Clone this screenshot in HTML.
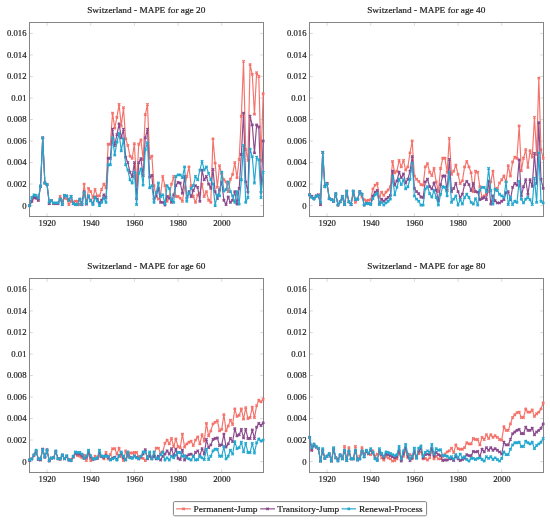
<!DOCTYPE html>
<html lang="en"><head><meta charset="utf-8"><title>Switzerland - MAPE</title>
<style>
html,body{margin:0;padding:0;background:#fff;}
svg{display:block;}
text{font-family:"Liberation Serif",serif;font-size:8.7px;fill:#1a1a1a;stroke:#1a1a1a;stroke-width:0.18px;}
</style></head><body>
<svg width="550" height="521" viewBox="0 0 550 521">
<rect width="550" height="521" fill="#ffffff"/>
<path d="M47.06 216.50v-3.3M47.06 22.50v3.3M90.72 216.50v-3.3M90.72 22.50v3.3M134.38 216.50v-3.3M134.38 22.50v3.3M178.04 216.50v-3.3M178.04 22.50v3.3M221.70 216.50v-3.3M221.70 22.50v3.3M29.50 205.60h3.3M263.50 205.60h-3.3M29.50 184.08h3.3M263.50 184.08h-3.3M29.50 162.56h3.3M263.50 162.56h-3.3M29.50 141.04h3.3M263.50 141.04h-3.3M29.50 119.52h3.3M263.50 119.52h-3.3M29.50 98.00h3.3M263.50 98.00h-3.3M29.50 76.48h3.3M263.50 76.48h-3.3M29.50 54.96h3.3M263.50 54.96h-3.3M29.50 33.44h3.3M263.50 33.44h-3.3" stroke="#c8c8c8" stroke-width="0.7" fill="none"/>
<rect x="29.50" y="22.50" width="234.00" height="194.00" fill="none" stroke="#858585" stroke-width="1"/>
<polyline points="29.60,205.60 31.78,201.30 33.97,197.53 36.15,198.07 38.33,200.22 40.52,186.23 42.70,137.81 44.88,183.00 47.06,184.62 49.25,203.45 51.43,200.76 53.61,203.45 55.80,203.45 57.98,203.45 60.16,196.45 62.34,200.76 64.53,198.07 66.71,198.61 68.89,204.52 71.08,201.30 73.26,201.83 75.44,201.30 77.63,201.30 79.81,204.52 81.99,202.37 84.17,184.08 86.36,203.99 88.54,188.38 90.72,191.61 92.91,197.53 95.09,189.46 97.27,195.92 99.46,195.92 101.64,189.46 103.82,184.08 106.00,187.85 108.19,144.27 110.37,144.27 112.55,113.06 114.74,128.13 116.92,117.37 119.10,104.46 121.29,125.98 123.47,107.68 125.65,138.89 127.83,145.34 130.02,156.10 132.20,158.26 134.38,143.73 136.57,185.16 138.75,144.27 140.93,139.96 143.12,159.33 145.30,114.68 147.48,104.46 149.66,158.26 151.85,156.10 154.03,185.69 156.21,196.45 158.40,199.14 160.58,194.84 162.76,176.55 164.95,185.69 167.13,201.30 169.31,196.45 171.49,184.08 173.68,176.55 175.86,196.45 178.04,196.45 180.23,198.07 182.41,201.30 184.59,187.31 186.78,176.55 188.96,166.86 191.14,185.69 193.32,196.45 195.51,202.37 197.69,194.84 199.87,193.23 202.06,184.08 204.24,196.45 206.42,191.61 208.61,200.22 210.79,202.37 212.97,138.89 215.15,163.10 217.34,187.31 219.52,165.79 221.70,173.86 223.89,179.78 226.07,181.93 228.25,191.61 230.44,179.24 232.62,174.40 234.80,162.56 236.98,177.62 239.17,159.33 241.35,116.29 243.53,61.42 245.72,149.65 247.90,160.41 250.08,64.64 252.27,74.33 254.45,114.14 256.63,72.71 258.81,76.48 261.00,160.41 263.18,93.70" fill="none" stroke="#f4726a" stroke-width="1.15" stroke-linejoin="round"/>
<path d="M28.40 204.40l2.4 2.4m0 -2.4l-2.4 2.4M30.58 200.10l2.4 2.4m0 -2.4l-2.4 2.4M32.77 196.33l2.4 2.4m0 -2.4l-2.4 2.4M34.95 196.87l2.4 2.4m0 -2.4l-2.4 2.4M37.13 199.02l2.4 2.4m0 -2.4l-2.4 2.4M39.31 185.03l2.4 2.4m0 -2.4l-2.4 2.4M41.50 136.61l2.4 2.4m0 -2.4l-2.4 2.4M43.68 181.80l2.4 2.4m0 -2.4l-2.4 2.4M45.86 183.42l2.4 2.4m0 -2.4l-2.4 2.4M48.05 202.25l2.4 2.4m0 -2.4l-2.4 2.4M50.23 199.56l2.4 2.4m0 -2.4l-2.4 2.4M52.41 202.25l2.4 2.4m0 -2.4l-2.4 2.4M54.60 202.25l2.4 2.4m0 -2.4l-2.4 2.4M56.78 202.25l2.4 2.4m0 -2.4l-2.4 2.4M58.96 195.25l2.4 2.4m0 -2.4l-2.4 2.4M61.14 199.56l2.4 2.4m0 -2.4l-2.4 2.4M63.33 196.87l2.4 2.4m0 -2.4l-2.4 2.4M65.51 197.41l2.4 2.4m0 -2.4l-2.4 2.4M67.69 203.32l2.4 2.4m0 -2.4l-2.4 2.4M69.88 200.10l2.4 2.4m0 -2.4l-2.4 2.4M72.06 200.63l2.4 2.4m0 -2.4l-2.4 2.4M74.24 200.10l2.4 2.4m0 -2.4l-2.4 2.4M76.43 200.10l2.4 2.4m0 -2.4l-2.4 2.4M78.61 203.32l2.4 2.4m0 -2.4l-2.4 2.4M80.79 201.17l2.4 2.4m0 -2.4l-2.4 2.4M82.97 182.88l2.4 2.4m0 -2.4l-2.4 2.4M85.16 202.79l2.4 2.4m0 -2.4l-2.4 2.4M87.34 187.18l2.4 2.4m0 -2.4l-2.4 2.4M89.52 190.41l2.4 2.4m0 -2.4l-2.4 2.4M91.71 196.33l2.4 2.4m0 -2.4l-2.4 2.4M93.89 188.26l2.4 2.4m0 -2.4l-2.4 2.4M96.07 194.72l2.4 2.4m0 -2.4l-2.4 2.4M98.26 194.72l2.4 2.4m0 -2.4l-2.4 2.4M100.44 188.26l2.4 2.4m0 -2.4l-2.4 2.4M102.62 182.88l2.4 2.4m0 -2.4l-2.4 2.4M104.80 186.65l2.4 2.4m0 -2.4l-2.4 2.4M106.99 143.07l2.4 2.4m0 -2.4l-2.4 2.4M109.17 143.07l2.4 2.4m0 -2.4l-2.4 2.4M111.35 111.86l2.4 2.4m0 -2.4l-2.4 2.4M113.54 126.93l2.4 2.4m0 -2.4l-2.4 2.4M115.72 116.17l2.4 2.4m0 -2.4l-2.4 2.4M117.90 103.26l2.4 2.4m0 -2.4l-2.4 2.4M120.09 124.78l2.4 2.4m0 -2.4l-2.4 2.4M122.27 106.48l2.4 2.4m0 -2.4l-2.4 2.4M124.45 137.69l2.4 2.4m0 -2.4l-2.4 2.4M126.63 144.14l2.4 2.4m0 -2.4l-2.4 2.4M128.82 154.90l2.4 2.4m0 -2.4l-2.4 2.4M131.00 157.06l2.4 2.4m0 -2.4l-2.4 2.4M133.18 142.53l2.4 2.4m0 -2.4l-2.4 2.4M135.37 183.96l2.4 2.4m0 -2.4l-2.4 2.4M137.55 143.07l2.4 2.4m0 -2.4l-2.4 2.4M139.73 138.76l2.4 2.4m0 -2.4l-2.4 2.4M141.92 158.13l2.4 2.4m0 -2.4l-2.4 2.4M144.10 113.48l2.4 2.4m0 -2.4l-2.4 2.4M146.28 103.26l2.4 2.4m0 -2.4l-2.4 2.4M148.47 157.06l2.4 2.4m0 -2.4l-2.4 2.4M150.65 154.90l2.4 2.4m0 -2.4l-2.4 2.4M152.83 184.49l2.4 2.4m0 -2.4l-2.4 2.4M155.01 195.25l2.4 2.4m0 -2.4l-2.4 2.4M157.20 197.94l2.4 2.4m0 -2.4l-2.4 2.4M159.38 193.64l2.4 2.4m0 -2.4l-2.4 2.4M161.56 175.35l2.4 2.4m0 -2.4l-2.4 2.4M163.75 184.49l2.4 2.4m0 -2.4l-2.4 2.4M165.93 200.10l2.4 2.4m0 -2.4l-2.4 2.4M168.11 195.25l2.4 2.4m0 -2.4l-2.4 2.4M170.29 182.88l2.4 2.4m0 -2.4l-2.4 2.4M172.48 175.35l2.4 2.4m0 -2.4l-2.4 2.4M174.66 195.25l2.4 2.4m0 -2.4l-2.4 2.4M176.84 195.25l2.4 2.4m0 -2.4l-2.4 2.4M179.03 196.87l2.4 2.4m0 -2.4l-2.4 2.4M181.21 200.10l2.4 2.4m0 -2.4l-2.4 2.4M183.39 186.11l2.4 2.4m0 -2.4l-2.4 2.4M185.58 175.35l2.4 2.4m0 -2.4l-2.4 2.4M187.76 165.66l2.4 2.4m0 -2.4l-2.4 2.4M189.94 184.49l2.4 2.4m0 -2.4l-2.4 2.4M192.12 195.25l2.4 2.4m0 -2.4l-2.4 2.4M194.31 201.17l2.4 2.4m0 -2.4l-2.4 2.4M196.49 193.64l2.4 2.4m0 -2.4l-2.4 2.4M198.67 192.03l2.4 2.4m0 -2.4l-2.4 2.4M200.86 182.88l2.4 2.4m0 -2.4l-2.4 2.4M203.04 195.25l2.4 2.4m0 -2.4l-2.4 2.4M205.22 190.41l2.4 2.4m0 -2.4l-2.4 2.4M207.41 199.02l2.4 2.4m0 -2.4l-2.4 2.4M209.59 201.17l2.4 2.4m0 -2.4l-2.4 2.4M211.77 137.69l2.4 2.4m0 -2.4l-2.4 2.4M213.95 161.90l2.4 2.4m0 -2.4l-2.4 2.4M216.14 186.11l2.4 2.4m0 -2.4l-2.4 2.4M218.32 164.59l2.4 2.4m0 -2.4l-2.4 2.4M220.50 172.66l2.4 2.4m0 -2.4l-2.4 2.4M222.69 178.58l2.4 2.4m0 -2.4l-2.4 2.4M224.87 180.73l2.4 2.4m0 -2.4l-2.4 2.4M227.05 190.41l2.4 2.4m0 -2.4l-2.4 2.4M229.24 178.04l2.4 2.4m0 -2.4l-2.4 2.4M231.42 173.20l2.4 2.4m0 -2.4l-2.4 2.4M233.60 161.36l2.4 2.4m0 -2.4l-2.4 2.4M235.78 176.42l2.4 2.4m0 -2.4l-2.4 2.4M237.97 158.13l2.4 2.4m0 -2.4l-2.4 2.4M240.15 115.09l2.4 2.4m0 -2.4l-2.4 2.4M242.33 60.22l2.4 2.4m0 -2.4l-2.4 2.4M244.52 148.45l2.4 2.4m0 -2.4l-2.4 2.4M246.70 159.21l2.4 2.4m0 -2.4l-2.4 2.4M248.88 63.44l2.4 2.4m0 -2.4l-2.4 2.4M251.07 73.13l2.4 2.4m0 -2.4l-2.4 2.4M253.25 112.94l2.4 2.4m0 -2.4l-2.4 2.4M255.43 71.51l2.4 2.4m0 -2.4l-2.4 2.4M257.62 75.28l2.4 2.4m0 -2.4l-2.4 2.4M259.80 159.21l2.4 2.4m0 -2.4l-2.4 2.4M261.98 92.50l2.4 2.4m0 -2.4l-2.4 2.4" stroke="#f4726a" stroke-width="1.35" fill="none"/>
<polyline points="29.60,205.60 31.78,201.30 33.97,197.53 36.15,198.07 38.33,200.22 40.52,186.23 42.70,137.81 44.88,183.00 47.06,184.62 49.25,203.45 51.43,200.76 53.61,203.45 55.80,203.45 57.98,203.45 60.16,199.14 62.34,204.52 64.53,195.38 66.71,195.92 68.89,200.22 71.08,196.45 73.26,203.45 75.44,204.52 77.63,204.52 79.81,199.14 81.99,204.52 84.17,191.61 86.36,203.99 88.54,195.92 90.72,200.76 92.91,203.45 95.09,196.99 97.27,199.14 99.46,202.91 101.64,200.22 103.82,194.84 106.00,197.53 108.19,158.26 110.37,158.26 112.55,129.20 114.74,145.34 116.92,134.58 119.10,123.82 121.29,137.81 123.47,129.20 125.65,157.18 127.83,162.56 130.02,172.24 132.20,176.55 134.38,162.56 136.57,198.61 138.75,162.56 140.93,158.79 143.12,175.47 145.30,137.81 147.48,129.20 149.66,177.09 151.85,175.47 154.03,199.14 156.21,195.92 158.40,188.38 160.58,202.37 162.76,202.37 164.95,205.06 167.13,196.45 169.31,198.07 171.49,202.37 173.68,194.84 175.86,185.69 178.04,182.47 180.23,183.00 182.41,193.23 184.59,176.55 186.78,198.07 188.96,191.61 191.14,196.45 193.32,190.54 195.51,185.69 197.69,187.31 199.87,201.30 202.06,170.09 204.24,179.78 206.42,176.55 208.61,184.08 210.79,188.38 212.97,169.55 215.15,191.61 217.34,198.61 219.52,190.00 221.70,181.93 223.89,200.22 226.07,204.52 228.25,196.99 230.44,202.37 232.62,200.22 234.80,191.61 236.98,203.99 239.17,188.38 241.35,154.49 243.53,113.06 245.72,181.93 247.90,192.15 250.08,116.29 252.27,124.90 254.45,152.88 256.63,124.90 258.81,127.05 261.00,192.15 263.18,141.04" fill="none" stroke="#8a4a8c" stroke-width="1.15" stroke-linejoin="round"/>
<path d="M28.40 204.40l2.4 2.4m0 -2.4l-2.4 2.4M30.58 200.10l2.4 2.4m0 -2.4l-2.4 2.4M32.77 196.33l2.4 2.4m0 -2.4l-2.4 2.4M34.95 196.87l2.4 2.4m0 -2.4l-2.4 2.4M37.13 199.02l2.4 2.4m0 -2.4l-2.4 2.4M39.31 185.03l2.4 2.4m0 -2.4l-2.4 2.4M41.50 136.61l2.4 2.4m0 -2.4l-2.4 2.4M43.68 181.80l2.4 2.4m0 -2.4l-2.4 2.4M45.86 183.42l2.4 2.4m0 -2.4l-2.4 2.4M48.05 202.25l2.4 2.4m0 -2.4l-2.4 2.4M50.23 199.56l2.4 2.4m0 -2.4l-2.4 2.4M52.41 202.25l2.4 2.4m0 -2.4l-2.4 2.4M54.60 202.25l2.4 2.4m0 -2.4l-2.4 2.4M56.78 202.25l2.4 2.4m0 -2.4l-2.4 2.4M58.96 197.94l2.4 2.4m0 -2.4l-2.4 2.4M61.14 203.32l2.4 2.4m0 -2.4l-2.4 2.4M63.33 194.18l2.4 2.4m0 -2.4l-2.4 2.4M65.51 194.72l2.4 2.4m0 -2.4l-2.4 2.4M67.69 199.02l2.4 2.4m0 -2.4l-2.4 2.4M69.88 195.25l2.4 2.4m0 -2.4l-2.4 2.4M72.06 202.25l2.4 2.4m0 -2.4l-2.4 2.4M74.24 203.32l2.4 2.4m0 -2.4l-2.4 2.4M76.43 203.32l2.4 2.4m0 -2.4l-2.4 2.4M78.61 197.94l2.4 2.4m0 -2.4l-2.4 2.4M80.79 203.32l2.4 2.4m0 -2.4l-2.4 2.4M82.97 190.41l2.4 2.4m0 -2.4l-2.4 2.4M85.16 202.79l2.4 2.4m0 -2.4l-2.4 2.4M87.34 194.72l2.4 2.4m0 -2.4l-2.4 2.4M89.52 199.56l2.4 2.4m0 -2.4l-2.4 2.4M91.71 202.25l2.4 2.4m0 -2.4l-2.4 2.4M93.89 195.79l2.4 2.4m0 -2.4l-2.4 2.4M96.07 197.94l2.4 2.4m0 -2.4l-2.4 2.4M98.26 201.71l2.4 2.4m0 -2.4l-2.4 2.4M100.44 199.02l2.4 2.4m0 -2.4l-2.4 2.4M102.62 193.64l2.4 2.4m0 -2.4l-2.4 2.4M104.80 196.33l2.4 2.4m0 -2.4l-2.4 2.4M106.99 157.06l2.4 2.4m0 -2.4l-2.4 2.4M109.17 157.06l2.4 2.4m0 -2.4l-2.4 2.4M111.35 128.00l2.4 2.4m0 -2.4l-2.4 2.4M113.54 144.14l2.4 2.4m0 -2.4l-2.4 2.4M115.72 133.38l2.4 2.4m0 -2.4l-2.4 2.4M117.90 122.62l2.4 2.4m0 -2.4l-2.4 2.4M120.09 136.61l2.4 2.4m0 -2.4l-2.4 2.4M122.27 128.00l2.4 2.4m0 -2.4l-2.4 2.4M124.45 155.98l2.4 2.4m0 -2.4l-2.4 2.4M126.63 161.36l2.4 2.4m0 -2.4l-2.4 2.4M128.82 171.04l2.4 2.4m0 -2.4l-2.4 2.4M131.00 175.35l2.4 2.4m0 -2.4l-2.4 2.4M133.18 161.36l2.4 2.4m0 -2.4l-2.4 2.4M135.37 197.41l2.4 2.4m0 -2.4l-2.4 2.4M137.55 161.36l2.4 2.4m0 -2.4l-2.4 2.4M139.73 157.59l2.4 2.4m0 -2.4l-2.4 2.4M141.92 174.27l2.4 2.4m0 -2.4l-2.4 2.4M144.10 136.61l2.4 2.4m0 -2.4l-2.4 2.4M146.28 128.00l2.4 2.4m0 -2.4l-2.4 2.4M148.47 175.89l2.4 2.4m0 -2.4l-2.4 2.4M150.65 174.27l2.4 2.4m0 -2.4l-2.4 2.4M152.83 197.94l2.4 2.4m0 -2.4l-2.4 2.4M155.01 194.72l2.4 2.4m0 -2.4l-2.4 2.4M157.20 187.18l2.4 2.4m0 -2.4l-2.4 2.4M159.38 201.17l2.4 2.4m0 -2.4l-2.4 2.4M161.56 201.17l2.4 2.4m0 -2.4l-2.4 2.4M163.75 203.86l2.4 2.4m0 -2.4l-2.4 2.4M165.93 195.25l2.4 2.4m0 -2.4l-2.4 2.4M168.11 196.87l2.4 2.4m0 -2.4l-2.4 2.4M170.29 201.17l2.4 2.4m0 -2.4l-2.4 2.4M172.48 193.64l2.4 2.4m0 -2.4l-2.4 2.4M174.66 184.49l2.4 2.4m0 -2.4l-2.4 2.4M176.84 181.27l2.4 2.4m0 -2.4l-2.4 2.4M179.03 181.80l2.4 2.4m0 -2.4l-2.4 2.4M181.21 192.03l2.4 2.4m0 -2.4l-2.4 2.4M183.39 175.35l2.4 2.4m0 -2.4l-2.4 2.4M185.58 196.87l2.4 2.4m0 -2.4l-2.4 2.4M187.76 190.41l2.4 2.4m0 -2.4l-2.4 2.4M189.94 195.25l2.4 2.4m0 -2.4l-2.4 2.4M192.12 189.34l2.4 2.4m0 -2.4l-2.4 2.4M194.31 184.49l2.4 2.4m0 -2.4l-2.4 2.4M196.49 186.11l2.4 2.4m0 -2.4l-2.4 2.4M198.67 200.10l2.4 2.4m0 -2.4l-2.4 2.4M200.86 168.89l2.4 2.4m0 -2.4l-2.4 2.4M203.04 178.58l2.4 2.4m0 -2.4l-2.4 2.4M205.22 175.35l2.4 2.4m0 -2.4l-2.4 2.4M207.41 182.88l2.4 2.4m0 -2.4l-2.4 2.4M209.59 187.18l2.4 2.4m0 -2.4l-2.4 2.4M211.77 168.35l2.4 2.4m0 -2.4l-2.4 2.4M213.95 190.41l2.4 2.4m0 -2.4l-2.4 2.4M216.14 197.41l2.4 2.4m0 -2.4l-2.4 2.4M218.32 188.80l2.4 2.4m0 -2.4l-2.4 2.4M220.50 180.73l2.4 2.4m0 -2.4l-2.4 2.4M222.69 199.02l2.4 2.4m0 -2.4l-2.4 2.4M224.87 203.32l2.4 2.4m0 -2.4l-2.4 2.4M227.05 195.79l2.4 2.4m0 -2.4l-2.4 2.4M229.24 201.17l2.4 2.4m0 -2.4l-2.4 2.4M231.42 199.02l2.4 2.4m0 -2.4l-2.4 2.4M233.60 190.41l2.4 2.4m0 -2.4l-2.4 2.4M235.78 202.79l2.4 2.4m0 -2.4l-2.4 2.4M237.97 187.18l2.4 2.4m0 -2.4l-2.4 2.4M240.15 153.29l2.4 2.4m0 -2.4l-2.4 2.4M242.33 111.86l2.4 2.4m0 -2.4l-2.4 2.4M244.52 180.73l2.4 2.4m0 -2.4l-2.4 2.4M246.70 190.95l2.4 2.4m0 -2.4l-2.4 2.4M248.88 115.09l2.4 2.4m0 -2.4l-2.4 2.4M251.07 123.70l2.4 2.4m0 -2.4l-2.4 2.4M253.25 151.68l2.4 2.4m0 -2.4l-2.4 2.4M255.43 123.70l2.4 2.4m0 -2.4l-2.4 2.4M257.62 125.85l2.4 2.4m0 -2.4l-2.4 2.4M259.80 190.95l2.4 2.4m0 -2.4l-2.4 2.4M261.98 139.84l2.4 2.4m0 -2.4l-2.4 2.4" stroke="#8a4a8c" stroke-width="1.35" fill="none"/>
<polyline points="29.60,205.60 31.78,197.53 33.97,194.84 36.15,195.38 38.33,198.07 40.52,186.23 42.70,137.81 44.88,183.00 47.06,184.62 49.25,202.37 51.43,200.76 53.61,202.91 55.80,202.91 57.98,202.91 60.16,199.14 62.34,204.52 64.53,195.38 66.71,195.92 68.89,200.22 71.08,196.45 73.26,203.45 75.44,204.52 77.63,204.52 79.81,199.14 81.99,204.52 84.17,192.69 86.36,203.45 88.54,195.92 90.72,200.76 92.91,204.52 95.09,197.53 97.27,200.76 99.46,205.60 101.64,202.37 103.82,198.07 106.00,202.37 108.19,164.71 110.37,164.71 112.55,137.81 114.74,155.03 116.92,142.12 119.10,133.51 121.29,150.72 123.47,138.89 125.65,164.71 127.83,170.09 130.02,179.78 132.20,183.00 134.38,172.24 136.57,204.52 138.75,173.32 140.93,169.02 143.12,185.16 145.30,149.65 147.48,142.65 149.66,187.85 151.85,185.69 154.03,202.37 156.21,192.69 158.40,183.00 160.58,196.45 162.76,194.84 164.95,203.99 167.13,185.69 169.31,188.38 171.49,199.68 173.68,202.37 175.86,176.55 178.04,174.93 180.23,174.93 182.41,177.62 184.59,166.86 186.78,201.30 188.96,193.23 191.14,188.38 193.32,185.69 195.51,176.55 197.69,179.78 199.87,170.09 202.06,161.48 204.24,170.09 206.42,166.86 208.61,173.32 210.79,179.78 212.97,184.08 215.15,205.60 217.34,194.84 219.52,195.92 221.70,172.24 223.89,191.07 226.07,189.46 228.25,181.93 230.44,191.61 232.62,195.92 234.80,202.37 236.98,191.61 239.17,203.99 241.35,179.78 243.53,145.34 245.72,202.37 247.90,197.53 250.08,149.11 252.27,156.64 254.45,183.00 256.63,157.18 258.81,159.87 261.00,197.53 263.18,172.24" fill="none" stroke="#22a7cf" stroke-width="1.15" stroke-linejoin="round"/>
<path d="M28.40 204.40l2.4 2.4m0 -2.4l-2.4 2.4M30.58 196.33l2.4 2.4m0 -2.4l-2.4 2.4M32.77 193.64l2.4 2.4m0 -2.4l-2.4 2.4M34.95 194.18l2.4 2.4m0 -2.4l-2.4 2.4M37.13 196.87l2.4 2.4m0 -2.4l-2.4 2.4M39.31 185.03l2.4 2.4m0 -2.4l-2.4 2.4M41.50 136.61l2.4 2.4m0 -2.4l-2.4 2.4M43.68 181.80l2.4 2.4m0 -2.4l-2.4 2.4M45.86 183.42l2.4 2.4m0 -2.4l-2.4 2.4M48.05 201.17l2.4 2.4m0 -2.4l-2.4 2.4M50.23 199.56l2.4 2.4m0 -2.4l-2.4 2.4M52.41 201.71l2.4 2.4m0 -2.4l-2.4 2.4M54.60 201.71l2.4 2.4m0 -2.4l-2.4 2.4M56.78 201.71l2.4 2.4m0 -2.4l-2.4 2.4M58.96 197.94l2.4 2.4m0 -2.4l-2.4 2.4M61.14 203.32l2.4 2.4m0 -2.4l-2.4 2.4M63.33 194.18l2.4 2.4m0 -2.4l-2.4 2.4M65.51 194.72l2.4 2.4m0 -2.4l-2.4 2.4M67.69 199.02l2.4 2.4m0 -2.4l-2.4 2.4M69.88 195.25l2.4 2.4m0 -2.4l-2.4 2.4M72.06 202.25l2.4 2.4m0 -2.4l-2.4 2.4M74.24 203.32l2.4 2.4m0 -2.4l-2.4 2.4M76.43 203.32l2.4 2.4m0 -2.4l-2.4 2.4M78.61 197.94l2.4 2.4m0 -2.4l-2.4 2.4M80.79 203.32l2.4 2.4m0 -2.4l-2.4 2.4M82.97 191.49l2.4 2.4m0 -2.4l-2.4 2.4M85.16 202.25l2.4 2.4m0 -2.4l-2.4 2.4M87.34 194.72l2.4 2.4m0 -2.4l-2.4 2.4M89.52 199.56l2.4 2.4m0 -2.4l-2.4 2.4M91.71 203.32l2.4 2.4m0 -2.4l-2.4 2.4M93.89 196.33l2.4 2.4m0 -2.4l-2.4 2.4M96.07 199.56l2.4 2.4m0 -2.4l-2.4 2.4M98.26 204.40l2.4 2.4m0 -2.4l-2.4 2.4M100.44 201.17l2.4 2.4m0 -2.4l-2.4 2.4M102.62 196.87l2.4 2.4m0 -2.4l-2.4 2.4M104.80 201.17l2.4 2.4m0 -2.4l-2.4 2.4M106.99 163.51l2.4 2.4m0 -2.4l-2.4 2.4M109.17 163.51l2.4 2.4m0 -2.4l-2.4 2.4M111.35 136.61l2.4 2.4m0 -2.4l-2.4 2.4M113.54 153.83l2.4 2.4m0 -2.4l-2.4 2.4M115.72 140.92l2.4 2.4m0 -2.4l-2.4 2.4M117.90 132.31l2.4 2.4m0 -2.4l-2.4 2.4M120.09 149.52l2.4 2.4m0 -2.4l-2.4 2.4M122.27 137.69l2.4 2.4m0 -2.4l-2.4 2.4M124.45 163.51l2.4 2.4m0 -2.4l-2.4 2.4M126.63 168.89l2.4 2.4m0 -2.4l-2.4 2.4M128.82 178.58l2.4 2.4m0 -2.4l-2.4 2.4M131.00 181.80l2.4 2.4m0 -2.4l-2.4 2.4M133.18 171.04l2.4 2.4m0 -2.4l-2.4 2.4M135.37 203.32l2.4 2.4m0 -2.4l-2.4 2.4M137.55 172.12l2.4 2.4m0 -2.4l-2.4 2.4M139.73 167.82l2.4 2.4m0 -2.4l-2.4 2.4M141.92 183.96l2.4 2.4m0 -2.4l-2.4 2.4M144.10 148.45l2.4 2.4m0 -2.4l-2.4 2.4M146.28 141.45l2.4 2.4m0 -2.4l-2.4 2.4M148.47 186.65l2.4 2.4m0 -2.4l-2.4 2.4M150.65 184.49l2.4 2.4m0 -2.4l-2.4 2.4M152.83 201.17l2.4 2.4m0 -2.4l-2.4 2.4M155.01 191.49l2.4 2.4m0 -2.4l-2.4 2.4M157.20 181.80l2.4 2.4m0 -2.4l-2.4 2.4M159.38 195.25l2.4 2.4m0 -2.4l-2.4 2.4M161.56 193.64l2.4 2.4m0 -2.4l-2.4 2.4M163.75 202.79l2.4 2.4m0 -2.4l-2.4 2.4M165.93 184.49l2.4 2.4m0 -2.4l-2.4 2.4M168.11 187.18l2.4 2.4m0 -2.4l-2.4 2.4M170.29 198.48l2.4 2.4m0 -2.4l-2.4 2.4M172.48 201.17l2.4 2.4m0 -2.4l-2.4 2.4M174.66 175.35l2.4 2.4m0 -2.4l-2.4 2.4M176.84 173.73l2.4 2.4m0 -2.4l-2.4 2.4M179.03 173.73l2.4 2.4m0 -2.4l-2.4 2.4M181.21 176.42l2.4 2.4m0 -2.4l-2.4 2.4M183.39 165.66l2.4 2.4m0 -2.4l-2.4 2.4M185.58 200.10l2.4 2.4m0 -2.4l-2.4 2.4M187.76 192.03l2.4 2.4m0 -2.4l-2.4 2.4M189.94 187.18l2.4 2.4m0 -2.4l-2.4 2.4M192.12 184.49l2.4 2.4m0 -2.4l-2.4 2.4M194.31 175.35l2.4 2.4m0 -2.4l-2.4 2.4M196.49 178.58l2.4 2.4m0 -2.4l-2.4 2.4M198.67 168.89l2.4 2.4m0 -2.4l-2.4 2.4M200.86 160.28l2.4 2.4m0 -2.4l-2.4 2.4M203.04 168.89l2.4 2.4m0 -2.4l-2.4 2.4M205.22 165.66l2.4 2.4m0 -2.4l-2.4 2.4M207.41 172.12l2.4 2.4m0 -2.4l-2.4 2.4M209.59 178.58l2.4 2.4m0 -2.4l-2.4 2.4M211.77 182.88l2.4 2.4m0 -2.4l-2.4 2.4M213.95 204.40l2.4 2.4m0 -2.4l-2.4 2.4M216.14 193.64l2.4 2.4m0 -2.4l-2.4 2.4M218.32 194.72l2.4 2.4m0 -2.4l-2.4 2.4M220.50 171.04l2.4 2.4m0 -2.4l-2.4 2.4M222.69 189.87l2.4 2.4m0 -2.4l-2.4 2.4M224.87 188.26l2.4 2.4m0 -2.4l-2.4 2.4M227.05 180.73l2.4 2.4m0 -2.4l-2.4 2.4M229.24 190.41l2.4 2.4m0 -2.4l-2.4 2.4M231.42 194.72l2.4 2.4m0 -2.4l-2.4 2.4M233.60 201.17l2.4 2.4m0 -2.4l-2.4 2.4M235.78 190.41l2.4 2.4m0 -2.4l-2.4 2.4M237.97 202.79l2.4 2.4m0 -2.4l-2.4 2.4M240.15 178.58l2.4 2.4m0 -2.4l-2.4 2.4M242.33 144.14l2.4 2.4m0 -2.4l-2.4 2.4M244.52 201.17l2.4 2.4m0 -2.4l-2.4 2.4M246.70 196.33l2.4 2.4m0 -2.4l-2.4 2.4M248.88 147.91l2.4 2.4m0 -2.4l-2.4 2.4M251.07 155.44l2.4 2.4m0 -2.4l-2.4 2.4M253.25 181.80l2.4 2.4m0 -2.4l-2.4 2.4M255.43 155.98l2.4 2.4m0 -2.4l-2.4 2.4M257.62 158.67l2.4 2.4m0 -2.4l-2.4 2.4M259.80 196.33l2.4 2.4m0 -2.4l-2.4 2.4M261.98 171.04l2.4 2.4m0 -2.4l-2.4 2.4" stroke="#22a7cf" stroke-width="1.35" fill="none"/>
<text x="26.50" y="208.50" text-anchor="end">0</text>
<text x="26.50" y="186.98" text-anchor="end">0.002</text>
<text x="26.50" y="165.46" text-anchor="end">0.004</text>
<text x="26.50" y="143.94" text-anchor="end">0.006</text>
<text x="26.50" y="122.42" text-anchor="end">0.008</text>
<text x="26.50" y="100.90" text-anchor="end">0.01</text>
<text x="26.50" y="79.38" text-anchor="end">0.012</text>
<text x="26.50" y="57.86" text-anchor="end">0.014</text>
<text x="26.50" y="36.34" text-anchor="end">0.016</text>
<text x="47.26" y="226.00" text-anchor="middle">1920</text>
<text x="90.92" y="226.00" text-anchor="middle">1940</text>
<text x="134.58" y="226.00" text-anchor="middle">1960</text>
<text x="178.24" y="226.00" text-anchor="middle">1980</text>
<text x="221.90" y="226.00" text-anchor="middle">2000</text>
<text x="146.30" y="12.70" text-anchor="middle" textLength="118.2" lengthAdjust="spacingAndGlyphs">Switzerland - MAPE for age 20</text>
<path d="M327.06 216.50v-3.3M327.06 22.50v3.3M370.72 216.50v-3.3M370.72 22.50v3.3M414.38 216.50v-3.3M414.38 22.50v3.3M458.04 216.50v-3.3M458.04 22.50v3.3M501.70 216.50v-3.3M501.70 22.50v3.3M309.50 205.60h3.3M543.50 205.60h-3.3M309.50 184.08h3.3M543.50 184.08h-3.3M309.50 162.56h3.3M543.50 162.56h-3.3M309.50 141.04h3.3M543.50 141.04h-3.3M309.50 119.52h3.3M543.50 119.52h-3.3M309.50 98.00h3.3M543.50 98.00h-3.3M309.50 76.48h3.3M543.50 76.48h-3.3M309.50 54.96h3.3M543.50 54.96h-3.3M309.50 33.44h3.3M543.50 33.44h-3.3" stroke="#c8c8c8" stroke-width="0.7" fill="none"/>
<rect x="309.50" y="22.50" width="234.00" height="194.00" fill="none" stroke="#858585" stroke-width="1"/>
<polyline points="309.60,194.84 311.78,196.45 313.97,198.61 316.15,195.92 318.33,194.84 320.52,204.52 322.70,152.34 324.88,186.23 327.06,183.54 329.25,198.61 331.43,199.68 333.61,201.30 335.80,194.84 337.98,205.06 340.16,201.83 342.35,198.07 344.53,204.52 346.71,193.23 348.89,201.83 351.08,204.52 353.26,193.76 355.44,202.37 357.63,199.14 359.81,191.61 361.99,196.99 364.18,199.68 366.36,200.76 368.54,200.22 370.72,199.68 372.91,188.92 375.09,185.16 377.27,183.54 379.46,197.53 381.64,192.15 383.82,195.38 386.00,192.15 388.19,190.00 390.37,186.77 392.55,161.48 394.74,172.78 396.92,171.17 399.10,160.41 401.29,166.86 403.47,160.41 405.65,170.09 407.84,166.86 410.02,152.88 412.20,141.04 414.38,176.01 416.57,179.24 418.75,181.39 420.93,184.62 423.12,185.16 425.30,166.86 427.48,163.64 429.67,172.24 431.85,175.47 434.03,168.48 436.21,181.93 438.40,191.61 440.58,168.48 442.76,158.26 444.95,158.26 447.13,172.24 449.31,138.35 451.50,174.40 453.68,171.17 455.86,165.25 458.04,174.40 460.23,183.54 462.41,180.85 464.59,166.86 466.78,161.48 468.96,166.86 471.14,172.78 473.33,191.61 475.51,171.17 477.69,172.24 479.87,186.77 482.06,197.53 484.24,195.92 486.42,194.30 488.61,191.61 490.79,181.93 492.97,171.17 495.15,190.00 497.34,188.38 499.52,183.00 501.70,179.78 503.89,176.01 506.07,181.93 508.25,165.79 510.44,176.01 512.62,162.02 514.80,157.18 516.99,158.26 519.17,125.98 521.35,170.63 523.53,158.26 525.72,149.65 527.90,167.40 530.08,150.72 532.27,157.18 534.45,117.37 536.63,154.49 538.82,78.09 541.00,149.65 543.18,158.26" fill="none" stroke="#f4726a" stroke-width="1.15" stroke-linejoin="round"/>
<path d="M308.40 193.64l2.4 2.4m0 -2.4l-2.4 2.4M310.58 195.25l2.4 2.4m0 -2.4l-2.4 2.4M312.77 197.41l2.4 2.4m0 -2.4l-2.4 2.4M314.95 194.72l2.4 2.4m0 -2.4l-2.4 2.4M317.13 193.64l2.4 2.4m0 -2.4l-2.4 2.4M319.32 203.32l2.4 2.4m0 -2.4l-2.4 2.4M321.50 151.14l2.4 2.4m0 -2.4l-2.4 2.4M323.68 185.03l2.4 2.4m0 -2.4l-2.4 2.4M325.86 182.34l2.4 2.4m0 -2.4l-2.4 2.4M328.05 197.41l2.4 2.4m0 -2.4l-2.4 2.4M330.23 198.48l2.4 2.4m0 -2.4l-2.4 2.4M332.41 200.10l2.4 2.4m0 -2.4l-2.4 2.4M334.60 193.64l2.4 2.4m0 -2.4l-2.4 2.4M336.78 203.86l2.4 2.4m0 -2.4l-2.4 2.4M338.96 200.63l2.4 2.4m0 -2.4l-2.4 2.4M341.15 196.87l2.4 2.4m0 -2.4l-2.4 2.4M343.33 203.32l2.4 2.4m0 -2.4l-2.4 2.4M345.51 192.03l2.4 2.4m0 -2.4l-2.4 2.4M347.69 200.63l2.4 2.4m0 -2.4l-2.4 2.4M349.88 203.32l2.4 2.4m0 -2.4l-2.4 2.4M352.06 192.56l2.4 2.4m0 -2.4l-2.4 2.4M354.24 201.17l2.4 2.4m0 -2.4l-2.4 2.4M356.43 197.94l2.4 2.4m0 -2.4l-2.4 2.4M358.61 190.41l2.4 2.4m0 -2.4l-2.4 2.4M360.79 195.79l2.4 2.4m0 -2.4l-2.4 2.4M362.98 198.48l2.4 2.4m0 -2.4l-2.4 2.4M365.16 199.56l2.4 2.4m0 -2.4l-2.4 2.4M367.34 199.02l2.4 2.4m0 -2.4l-2.4 2.4M369.52 198.48l2.4 2.4m0 -2.4l-2.4 2.4M371.71 187.72l2.4 2.4m0 -2.4l-2.4 2.4M373.89 183.96l2.4 2.4m0 -2.4l-2.4 2.4M376.07 182.34l2.4 2.4m0 -2.4l-2.4 2.4M378.26 196.33l2.4 2.4m0 -2.4l-2.4 2.4M380.44 190.95l2.4 2.4m0 -2.4l-2.4 2.4M382.62 194.18l2.4 2.4m0 -2.4l-2.4 2.4M384.81 190.95l2.4 2.4m0 -2.4l-2.4 2.4M386.99 188.80l2.4 2.4m0 -2.4l-2.4 2.4M389.17 185.57l2.4 2.4m0 -2.4l-2.4 2.4M391.35 160.28l2.4 2.4m0 -2.4l-2.4 2.4M393.54 171.58l2.4 2.4m0 -2.4l-2.4 2.4M395.72 169.97l2.4 2.4m0 -2.4l-2.4 2.4M397.90 159.21l2.4 2.4m0 -2.4l-2.4 2.4M400.09 165.66l2.4 2.4m0 -2.4l-2.4 2.4M402.27 159.21l2.4 2.4m0 -2.4l-2.4 2.4M404.45 168.89l2.4 2.4m0 -2.4l-2.4 2.4M406.64 165.66l2.4 2.4m0 -2.4l-2.4 2.4M408.82 151.68l2.4 2.4m0 -2.4l-2.4 2.4M411.00 139.84l2.4 2.4m0 -2.4l-2.4 2.4M413.18 174.81l2.4 2.4m0 -2.4l-2.4 2.4M415.37 178.04l2.4 2.4m0 -2.4l-2.4 2.4M417.55 180.19l2.4 2.4m0 -2.4l-2.4 2.4M419.73 183.42l2.4 2.4m0 -2.4l-2.4 2.4M421.92 183.96l2.4 2.4m0 -2.4l-2.4 2.4M424.10 165.66l2.4 2.4m0 -2.4l-2.4 2.4M426.28 162.44l2.4 2.4m0 -2.4l-2.4 2.4M428.47 171.04l2.4 2.4m0 -2.4l-2.4 2.4M430.65 174.27l2.4 2.4m0 -2.4l-2.4 2.4M432.83 167.28l2.4 2.4m0 -2.4l-2.4 2.4M435.01 180.73l2.4 2.4m0 -2.4l-2.4 2.4M437.20 190.41l2.4 2.4m0 -2.4l-2.4 2.4M439.38 167.28l2.4 2.4m0 -2.4l-2.4 2.4M441.56 157.06l2.4 2.4m0 -2.4l-2.4 2.4M443.75 157.06l2.4 2.4m0 -2.4l-2.4 2.4M445.93 171.04l2.4 2.4m0 -2.4l-2.4 2.4M448.11 137.15l2.4 2.4m0 -2.4l-2.4 2.4M450.30 173.20l2.4 2.4m0 -2.4l-2.4 2.4M452.48 169.97l2.4 2.4m0 -2.4l-2.4 2.4M454.66 164.05l2.4 2.4m0 -2.4l-2.4 2.4M456.84 173.20l2.4 2.4m0 -2.4l-2.4 2.4M459.03 182.34l2.4 2.4m0 -2.4l-2.4 2.4M461.21 179.65l2.4 2.4m0 -2.4l-2.4 2.4M463.39 165.66l2.4 2.4m0 -2.4l-2.4 2.4M465.58 160.28l2.4 2.4m0 -2.4l-2.4 2.4M467.76 165.66l2.4 2.4m0 -2.4l-2.4 2.4M469.94 171.58l2.4 2.4m0 -2.4l-2.4 2.4M472.13 190.41l2.4 2.4m0 -2.4l-2.4 2.4M474.31 169.97l2.4 2.4m0 -2.4l-2.4 2.4M476.49 171.04l2.4 2.4m0 -2.4l-2.4 2.4M478.67 185.57l2.4 2.4m0 -2.4l-2.4 2.4M480.86 196.33l2.4 2.4m0 -2.4l-2.4 2.4M483.04 194.72l2.4 2.4m0 -2.4l-2.4 2.4M485.22 193.10l2.4 2.4m0 -2.4l-2.4 2.4M487.41 190.41l2.4 2.4m0 -2.4l-2.4 2.4M489.59 180.73l2.4 2.4m0 -2.4l-2.4 2.4M491.77 169.97l2.4 2.4m0 -2.4l-2.4 2.4M493.95 188.80l2.4 2.4m0 -2.4l-2.4 2.4M496.14 187.18l2.4 2.4m0 -2.4l-2.4 2.4M498.32 181.80l2.4 2.4m0 -2.4l-2.4 2.4M500.50 178.58l2.4 2.4m0 -2.4l-2.4 2.4M502.69 174.81l2.4 2.4m0 -2.4l-2.4 2.4M504.87 180.73l2.4 2.4m0 -2.4l-2.4 2.4M507.05 164.59l2.4 2.4m0 -2.4l-2.4 2.4M509.24 174.81l2.4 2.4m0 -2.4l-2.4 2.4M511.42 160.82l2.4 2.4m0 -2.4l-2.4 2.4M513.60 155.98l2.4 2.4m0 -2.4l-2.4 2.4M515.78 157.06l2.4 2.4m0 -2.4l-2.4 2.4M517.97 124.78l2.4 2.4m0 -2.4l-2.4 2.4M520.15 169.43l2.4 2.4m0 -2.4l-2.4 2.4M522.33 157.06l2.4 2.4m0 -2.4l-2.4 2.4M524.52 148.45l2.4 2.4m0 -2.4l-2.4 2.4M526.70 166.20l2.4 2.4m0 -2.4l-2.4 2.4M528.88 149.52l2.4 2.4m0 -2.4l-2.4 2.4M531.07 155.98l2.4 2.4m0 -2.4l-2.4 2.4M533.25 116.17l2.4 2.4m0 -2.4l-2.4 2.4M535.43 153.29l2.4 2.4m0 -2.4l-2.4 2.4M537.62 76.89l2.4 2.4m0 -2.4l-2.4 2.4M539.80 148.45l2.4 2.4m0 -2.4l-2.4 2.4M541.98 157.06l2.4 2.4m0 -2.4l-2.4 2.4" stroke="#f4726a" stroke-width="1.35" fill="none"/>
<polyline points="309.60,194.84 311.78,196.45 313.97,198.61 316.15,195.92 318.33,194.84 320.52,204.52 322.70,152.34 324.88,186.23 327.06,183.54 329.25,198.61 331.43,199.68 333.61,201.30 335.80,193.76 337.98,205.06 340.16,201.83 342.35,196.45 344.53,204.52 346.71,191.07 348.89,201.83 351.08,204.52 353.26,191.07 355.44,199.68 357.63,199.14 359.81,191.61 361.99,194.30 364.18,205.06 366.36,203.45 368.54,203.45 370.72,203.99 372.91,195.92 375.09,192.15 377.27,190.54 379.46,203.99 381.64,199.14 383.82,201.30 386.00,199.14 388.19,197.53 390.37,195.38 392.55,171.17 394.74,185.16 396.92,180.85 399.10,172.24 401.29,177.62 403.47,173.86 405.65,183.00 407.84,179.24 410.02,171.17 412.20,156.64 414.38,188.38 416.57,191.61 418.75,193.76 420.93,196.99 423.12,197.53 425.30,181.93 427.48,179.24 429.67,186.77 431.85,188.92 434.03,183.00 436.21,190.00 438.40,200.76 440.58,184.62 442.76,176.01 444.95,176.01 447.13,190.54 449.31,159.33 451.50,191.61 453.68,188.38 455.86,183.54 458.04,191.61 460.23,197.53 462.41,194.30 464.59,184.62 466.78,181.39 468.96,184.62 471.14,190.54 473.33,183.54 475.51,191.61 477.69,192.15 479.87,199.68 482.06,198.61 484.24,197.53 486.42,199.68 488.61,180.85 490.79,203.99 492.97,195.92 495.15,200.76 497.34,202.91 499.52,202.91 501.70,201.30 503.89,199.68 506.07,192.69 508.25,191.61 510.44,199.68 512.62,187.31 514.80,183.54 516.99,185.16 519.17,159.87 521.35,195.92 523.53,186.77 525.72,179.78 527.90,194.30 530.08,179.78 532.27,186.23 534.45,153.41 536.63,183.54 538.82,122.75 541.00,179.24 543.18,188.38" fill="none" stroke="#8a4a8c" stroke-width="1.15" stroke-linejoin="round"/>
<path d="M308.40 193.64l2.4 2.4m0 -2.4l-2.4 2.4M310.58 195.25l2.4 2.4m0 -2.4l-2.4 2.4M312.77 197.41l2.4 2.4m0 -2.4l-2.4 2.4M314.95 194.72l2.4 2.4m0 -2.4l-2.4 2.4M317.13 193.64l2.4 2.4m0 -2.4l-2.4 2.4M319.32 203.32l2.4 2.4m0 -2.4l-2.4 2.4M321.50 151.14l2.4 2.4m0 -2.4l-2.4 2.4M323.68 185.03l2.4 2.4m0 -2.4l-2.4 2.4M325.86 182.34l2.4 2.4m0 -2.4l-2.4 2.4M328.05 197.41l2.4 2.4m0 -2.4l-2.4 2.4M330.23 198.48l2.4 2.4m0 -2.4l-2.4 2.4M332.41 200.10l2.4 2.4m0 -2.4l-2.4 2.4M334.60 192.56l2.4 2.4m0 -2.4l-2.4 2.4M336.78 203.86l2.4 2.4m0 -2.4l-2.4 2.4M338.96 200.63l2.4 2.4m0 -2.4l-2.4 2.4M341.15 195.25l2.4 2.4m0 -2.4l-2.4 2.4M343.33 203.32l2.4 2.4m0 -2.4l-2.4 2.4M345.51 189.87l2.4 2.4m0 -2.4l-2.4 2.4M347.69 200.63l2.4 2.4m0 -2.4l-2.4 2.4M349.88 203.32l2.4 2.4m0 -2.4l-2.4 2.4M352.06 189.87l2.4 2.4m0 -2.4l-2.4 2.4M354.24 198.48l2.4 2.4m0 -2.4l-2.4 2.4M356.43 197.94l2.4 2.4m0 -2.4l-2.4 2.4M358.61 190.41l2.4 2.4m0 -2.4l-2.4 2.4M360.79 193.10l2.4 2.4m0 -2.4l-2.4 2.4M362.98 203.86l2.4 2.4m0 -2.4l-2.4 2.4M365.16 202.25l2.4 2.4m0 -2.4l-2.4 2.4M367.34 202.25l2.4 2.4m0 -2.4l-2.4 2.4M369.52 202.79l2.4 2.4m0 -2.4l-2.4 2.4M371.71 194.72l2.4 2.4m0 -2.4l-2.4 2.4M373.89 190.95l2.4 2.4m0 -2.4l-2.4 2.4M376.07 189.34l2.4 2.4m0 -2.4l-2.4 2.4M378.26 202.79l2.4 2.4m0 -2.4l-2.4 2.4M380.44 197.94l2.4 2.4m0 -2.4l-2.4 2.4M382.62 200.10l2.4 2.4m0 -2.4l-2.4 2.4M384.81 197.94l2.4 2.4m0 -2.4l-2.4 2.4M386.99 196.33l2.4 2.4m0 -2.4l-2.4 2.4M389.17 194.18l2.4 2.4m0 -2.4l-2.4 2.4M391.35 169.97l2.4 2.4m0 -2.4l-2.4 2.4M393.54 183.96l2.4 2.4m0 -2.4l-2.4 2.4M395.72 179.65l2.4 2.4m0 -2.4l-2.4 2.4M397.90 171.04l2.4 2.4m0 -2.4l-2.4 2.4M400.09 176.42l2.4 2.4m0 -2.4l-2.4 2.4M402.27 172.66l2.4 2.4m0 -2.4l-2.4 2.4M404.45 181.80l2.4 2.4m0 -2.4l-2.4 2.4M406.64 178.04l2.4 2.4m0 -2.4l-2.4 2.4M408.82 169.97l2.4 2.4m0 -2.4l-2.4 2.4M411.00 155.44l2.4 2.4m0 -2.4l-2.4 2.4M413.18 187.18l2.4 2.4m0 -2.4l-2.4 2.4M415.37 190.41l2.4 2.4m0 -2.4l-2.4 2.4M417.55 192.56l2.4 2.4m0 -2.4l-2.4 2.4M419.73 195.79l2.4 2.4m0 -2.4l-2.4 2.4M421.92 196.33l2.4 2.4m0 -2.4l-2.4 2.4M424.10 180.73l2.4 2.4m0 -2.4l-2.4 2.4M426.28 178.04l2.4 2.4m0 -2.4l-2.4 2.4M428.47 185.57l2.4 2.4m0 -2.4l-2.4 2.4M430.65 187.72l2.4 2.4m0 -2.4l-2.4 2.4M432.83 181.80l2.4 2.4m0 -2.4l-2.4 2.4M435.01 188.80l2.4 2.4m0 -2.4l-2.4 2.4M437.20 199.56l2.4 2.4m0 -2.4l-2.4 2.4M439.38 183.42l2.4 2.4m0 -2.4l-2.4 2.4M441.56 174.81l2.4 2.4m0 -2.4l-2.4 2.4M443.75 174.81l2.4 2.4m0 -2.4l-2.4 2.4M445.93 189.34l2.4 2.4m0 -2.4l-2.4 2.4M448.11 158.13l2.4 2.4m0 -2.4l-2.4 2.4M450.30 190.41l2.4 2.4m0 -2.4l-2.4 2.4M452.48 187.18l2.4 2.4m0 -2.4l-2.4 2.4M454.66 182.34l2.4 2.4m0 -2.4l-2.4 2.4M456.84 190.41l2.4 2.4m0 -2.4l-2.4 2.4M459.03 196.33l2.4 2.4m0 -2.4l-2.4 2.4M461.21 193.10l2.4 2.4m0 -2.4l-2.4 2.4M463.39 183.42l2.4 2.4m0 -2.4l-2.4 2.4M465.58 180.19l2.4 2.4m0 -2.4l-2.4 2.4M467.76 183.42l2.4 2.4m0 -2.4l-2.4 2.4M469.94 189.34l2.4 2.4m0 -2.4l-2.4 2.4M472.13 182.34l2.4 2.4m0 -2.4l-2.4 2.4M474.31 190.41l2.4 2.4m0 -2.4l-2.4 2.4M476.49 190.95l2.4 2.4m0 -2.4l-2.4 2.4M478.67 198.48l2.4 2.4m0 -2.4l-2.4 2.4M480.86 197.41l2.4 2.4m0 -2.4l-2.4 2.4M483.04 196.33l2.4 2.4m0 -2.4l-2.4 2.4M485.22 198.48l2.4 2.4m0 -2.4l-2.4 2.4M487.41 179.65l2.4 2.4m0 -2.4l-2.4 2.4M489.59 202.79l2.4 2.4m0 -2.4l-2.4 2.4M491.77 194.72l2.4 2.4m0 -2.4l-2.4 2.4M493.95 199.56l2.4 2.4m0 -2.4l-2.4 2.4M496.14 201.71l2.4 2.4m0 -2.4l-2.4 2.4M498.32 201.71l2.4 2.4m0 -2.4l-2.4 2.4M500.50 200.10l2.4 2.4m0 -2.4l-2.4 2.4M502.69 198.48l2.4 2.4m0 -2.4l-2.4 2.4M504.87 191.49l2.4 2.4m0 -2.4l-2.4 2.4M507.05 190.41l2.4 2.4m0 -2.4l-2.4 2.4M509.24 198.48l2.4 2.4m0 -2.4l-2.4 2.4M511.42 186.11l2.4 2.4m0 -2.4l-2.4 2.4M513.60 182.34l2.4 2.4m0 -2.4l-2.4 2.4M515.78 183.96l2.4 2.4m0 -2.4l-2.4 2.4M517.97 158.67l2.4 2.4m0 -2.4l-2.4 2.4M520.15 194.72l2.4 2.4m0 -2.4l-2.4 2.4M522.33 185.57l2.4 2.4m0 -2.4l-2.4 2.4M524.52 178.58l2.4 2.4m0 -2.4l-2.4 2.4M526.70 193.10l2.4 2.4m0 -2.4l-2.4 2.4M528.88 178.58l2.4 2.4m0 -2.4l-2.4 2.4M531.07 185.03l2.4 2.4m0 -2.4l-2.4 2.4M533.25 152.21l2.4 2.4m0 -2.4l-2.4 2.4M535.43 182.34l2.4 2.4m0 -2.4l-2.4 2.4M537.62 121.55l2.4 2.4m0 -2.4l-2.4 2.4M539.80 178.04l2.4 2.4m0 -2.4l-2.4 2.4M541.98 187.18l2.4 2.4m0 -2.4l-2.4 2.4" stroke="#8a4a8c" stroke-width="1.35" fill="none"/>
<polyline points="309.60,194.84 311.78,197.53 313.97,199.14 316.15,196.45 318.33,195.38 320.52,202.37 322.70,152.34 324.88,186.77 327.06,184.08 329.25,198.61 331.43,199.68 333.61,201.30 335.80,193.76 337.98,205.06 340.16,201.83 342.35,196.45 344.53,204.52 346.71,191.07 348.89,201.83 351.08,204.52 353.26,191.07 355.44,199.68 357.63,199.14 359.81,191.61 361.99,194.30 364.18,205.06 366.36,203.45 368.54,203.45 370.72,204.52 372.91,198.61 375.09,194.84 377.27,193.23 379.46,204.52 381.64,202.37 383.82,205.06 386.00,202.91 388.19,201.30 390.37,199.14 392.55,176.55 394.74,194.84 396.92,187.31 399.10,179.24 401.29,184.62 403.47,179.78 405.65,188.92 407.84,186.77 410.02,179.24 412.20,163.10 414.38,195.92 416.57,199.14 418.75,201.30 420.93,205.06 423.12,205.06 425.30,188.92 427.48,186.77 429.67,193.76 431.85,196.99 434.03,190.54 436.21,197.53 438.40,205.06 440.58,194.30 442.76,186.77 444.95,187.31 447.13,195.92 449.31,172.24 451.50,202.37 453.68,199.14 455.86,195.92 458.04,205.06 460.23,199.68 462.41,203.99 464.59,197.53 466.78,194.30 468.96,197.53 471.14,202.37 473.33,203.99 475.51,198.61 477.69,205.06 479.87,190.00 482.06,187.31 484.24,187.31 486.42,191.61 488.61,168.48 490.79,190.54 492.97,203.99 495.15,188.92 497.34,190.54 499.52,194.30 501.70,195.92 503.89,197.53 506.07,181.93 508.25,204.52 510.44,196.99 512.62,204.52 514.80,201.30 516.99,202.37 519.17,181.39 521.35,199.14 523.53,202.91 525.72,199.14 527.90,197.53 530.08,199.68 532.27,204.52 534.45,178.16 536.63,202.37 538.82,152.88 541.00,201.30 543.18,202.91" fill="none" stroke="#22a7cf" stroke-width="1.15" stroke-linejoin="round"/>
<path d="M308.40 193.64l2.4 2.4m0 -2.4l-2.4 2.4M310.58 196.33l2.4 2.4m0 -2.4l-2.4 2.4M312.77 197.94l2.4 2.4m0 -2.4l-2.4 2.4M314.95 195.25l2.4 2.4m0 -2.4l-2.4 2.4M317.13 194.18l2.4 2.4m0 -2.4l-2.4 2.4M319.32 201.17l2.4 2.4m0 -2.4l-2.4 2.4M321.50 151.14l2.4 2.4m0 -2.4l-2.4 2.4M323.68 185.57l2.4 2.4m0 -2.4l-2.4 2.4M325.86 182.88l2.4 2.4m0 -2.4l-2.4 2.4M328.05 197.41l2.4 2.4m0 -2.4l-2.4 2.4M330.23 198.48l2.4 2.4m0 -2.4l-2.4 2.4M332.41 200.10l2.4 2.4m0 -2.4l-2.4 2.4M334.60 192.56l2.4 2.4m0 -2.4l-2.4 2.4M336.78 203.86l2.4 2.4m0 -2.4l-2.4 2.4M338.96 200.63l2.4 2.4m0 -2.4l-2.4 2.4M341.15 195.25l2.4 2.4m0 -2.4l-2.4 2.4M343.33 203.32l2.4 2.4m0 -2.4l-2.4 2.4M345.51 189.87l2.4 2.4m0 -2.4l-2.4 2.4M347.69 200.63l2.4 2.4m0 -2.4l-2.4 2.4M349.88 203.32l2.4 2.4m0 -2.4l-2.4 2.4M352.06 189.87l2.4 2.4m0 -2.4l-2.4 2.4M354.24 198.48l2.4 2.4m0 -2.4l-2.4 2.4M356.43 197.94l2.4 2.4m0 -2.4l-2.4 2.4M358.61 190.41l2.4 2.4m0 -2.4l-2.4 2.4M360.79 193.10l2.4 2.4m0 -2.4l-2.4 2.4M362.98 203.86l2.4 2.4m0 -2.4l-2.4 2.4M365.16 202.25l2.4 2.4m0 -2.4l-2.4 2.4M367.34 202.25l2.4 2.4m0 -2.4l-2.4 2.4M369.52 203.32l2.4 2.4m0 -2.4l-2.4 2.4M371.71 197.41l2.4 2.4m0 -2.4l-2.4 2.4M373.89 193.64l2.4 2.4m0 -2.4l-2.4 2.4M376.07 192.03l2.4 2.4m0 -2.4l-2.4 2.4M378.26 203.32l2.4 2.4m0 -2.4l-2.4 2.4M380.44 201.17l2.4 2.4m0 -2.4l-2.4 2.4M382.62 203.86l2.4 2.4m0 -2.4l-2.4 2.4M384.81 201.71l2.4 2.4m0 -2.4l-2.4 2.4M386.99 200.10l2.4 2.4m0 -2.4l-2.4 2.4M389.17 197.94l2.4 2.4m0 -2.4l-2.4 2.4M391.35 175.35l2.4 2.4m0 -2.4l-2.4 2.4M393.54 193.64l2.4 2.4m0 -2.4l-2.4 2.4M395.72 186.11l2.4 2.4m0 -2.4l-2.4 2.4M397.90 178.04l2.4 2.4m0 -2.4l-2.4 2.4M400.09 183.42l2.4 2.4m0 -2.4l-2.4 2.4M402.27 178.58l2.4 2.4m0 -2.4l-2.4 2.4M404.45 187.72l2.4 2.4m0 -2.4l-2.4 2.4M406.64 185.57l2.4 2.4m0 -2.4l-2.4 2.4M408.82 178.04l2.4 2.4m0 -2.4l-2.4 2.4M411.00 161.90l2.4 2.4m0 -2.4l-2.4 2.4M413.18 194.72l2.4 2.4m0 -2.4l-2.4 2.4M415.37 197.94l2.4 2.4m0 -2.4l-2.4 2.4M417.55 200.10l2.4 2.4m0 -2.4l-2.4 2.4M419.73 203.86l2.4 2.4m0 -2.4l-2.4 2.4M421.92 203.86l2.4 2.4m0 -2.4l-2.4 2.4M424.10 187.72l2.4 2.4m0 -2.4l-2.4 2.4M426.28 185.57l2.4 2.4m0 -2.4l-2.4 2.4M428.47 192.56l2.4 2.4m0 -2.4l-2.4 2.4M430.65 195.79l2.4 2.4m0 -2.4l-2.4 2.4M432.83 189.34l2.4 2.4m0 -2.4l-2.4 2.4M435.01 196.33l2.4 2.4m0 -2.4l-2.4 2.4M437.20 203.86l2.4 2.4m0 -2.4l-2.4 2.4M439.38 193.10l2.4 2.4m0 -2.4l-2.4 2.4M441.56 185.57l2.4 2.4m0 -2.4l-2.4 2.4M443.75 186.11l2.4 2.4m0 -2.4l-2.4 2.4M445.93 194.72l2.4 2.4m0 -2.4l-2.4 2.4M448.11 171.04l2.4 2.4m0 -2.4l-2.4 2.4M450.30 201.17l2.4 2.4m0 -2.4l-2.4 2.4M452.48 197.94l2.4 2.4m0 -2.4l-2.4 2.4M454.66 194.72l2.4 2.4m0 -2.4l-2.4 2.4M456.84 203.86l2.4 2.4m0 -2.4l-2.4 2.4M459.03 198.48l2.4 2.4m0 -2.4l-2.4 2.4M461.21 202.79l2.4 2.4m0 -2.4l-2.4 2.4M463.39 196.33l2.4 2.4m0 -2.4l-2.4 2.4M465.58 193.10l2.4 2.4m0 -2.4l-2.4 2.4M467.76 196.33l2.4 2.4m0 -2.4l-2.4 2.4M469.94 201.17l2.4 2.4m0 -2.4l-2.4 2.4M472.13 202.79l2.4 2.4m0 -2.4l-2.4 2.4M474.31 197.41l2.4 2.4m0 -2.4l-2.4 2.4M476.49 203.86l2.4 2.4m0 -2.4l-2.4 2.4M478.67 188.80l2.4 2.4m0 -2.4l-2.4 2.4M480.86 186.11l2.4 2.4m0 -2.4l-2.4 2.4M483.04 186.11l2.4 2.4m0 -2.4l-2.4 2.4M485.22 190.41l2.4 2.4m0 -2.4l-2.4 2.4M487.41 167.28l2.4 2.4m0 -2.4l-2.4 2.4M489.59 189.34l2.4 2.4m0 -2.4l-2.4 2.4M491.77 202.79l2.4 2.4m0 -2.4l-2.4 2.4M493.95 187.72l2.4 2.4m0 -2.4l-2.4 2.4M496.14 189.34l2.4 2.4m0 -2.4l-2.4 2.4M498.32 193.10l2.4 2.4m0 -2.4l-2.4 2.4M500.50 194.72l2.4 2.4m0 -2.4l-2.4 2.4M502.69 196.33l2.4 2.4m0 -2.4l-2.4 2.4M504.87 180.73l2.4 2.4m0 -2.4l-2.4 2.4M507.05 203.32l2.4 2.4m0 -2.4l-2.4 2.4M509.24 195.79l2.4 2.4m0 -2.4l-2.4 2.4M511.42 203.32l2.4 2.4m0 -2.4l-2.4 2.4M513.60 200.10l2.4 2.4m0 -2.4l-2.4 2.4M515.78 201.17l2.4 2.4m0 -2.4l-2.4 2.4M517.97 180.19l2.4 2.4m0 -2.4l-2.4 2.4M520.15 197.94l2.4 2.4m0 -2.4l-2.4 2.4M522.33 201.71l2.4 2.4m0 -2.4l-2.4 2.4M524.52 197.94l2.4 2.4m0 -2.4l-2.4 2.4M526.70 196.33l2.4 2.4m0 -2.4l-2.4 2.4M528.88 198.48l2.4 2.4m0 -2.4l-2.4 2.4M531.07 203.32l2.4 2.4m0 -2.4l-2.4 2.4M533.25 176.96l2.4 2.4m0 -2.4l-2.4 2.4M535.43 201.17l2.4 2.4m0 -2.4l-2.4 2.4M537.62 151.68l2.4 2.4m0 -2.4l-2.4 2.4M539.80 200.10l2.4 2.4m0 -2.4l-2.4 2.4M541.98 201.71l2.4 2.4m0 -2.4l-2.4 2.4" stroke="#22a7cf" stroke-width="1.35" fill="none"/>
<text x="306.50" y="208.50" text-anchor="end">0</text>
<text x="306.50" y="186.98" text-anchor="end">0.002</text>
<text x="306.50" y="165.46" text-anchor="end">0.004</text>
<text x="306.50" y="143.94" text-anchor="end">0.006</text>
<text x="306.50" y="122.42" text-anchor="end">0.008</text>
<text x="306.50" y="100.90" text-anchor="end">0.01</text>
<text x="306.50" y="79.38" text-anchor="end">0.012</text>
<text x="306.50" y="57.86" text-anchor="end">0.014</text>
<text x="306.50" y="36.34" text-anchor="end">0.016</text>
<text x="327.26" y="226.00" text-anchor="middle">1920</text>
<text x="370.92" y="226.00" text-anchor="middle">1940</text>
<text x="414.58" y="226.00" text-anchor="middle">1960</text>
<text x="458.24" y="226.00" text-anchor="middle">1980</text>
<text x="501.90" y="226.00" text-anchor="middle">2000</text>
<text x="426.30" y="12.70" text-anchor="middle" textLength="118.2" lengthAdjust="spacingAndGlyphs">Switzerland - MAPE for age 40</text>
<path d="M47.06 472.50v-3.3M47.06 278.50v3.3M90.72 472.50v-3.3M90.72 278.50v3.3M134.38 472.50v-3.3M134.38 278.50v3.3M178.04 472.50v-3.3M178.04 278.50v3.3M221.70 472.50v-3.3M221.70 278.50v3.3M29.50 461.60h3.3M263.50 461.60h-3.3M29.50 440.08h3.3M263.50 440.08h-3.3M29.50 418.56h3.3M263.50 418.56h-3.3M29.50 397.04h3.3M263.50 397.04h-3.3M29.50 375.52h3.3M263.50 375.52h-3.3M29.50 354.00h3.3M263.50 354.00h-3.3M29.50 332.48h3.3M263.50 332.48h-3.3M29.50 310.96h3.3M263.50 310.96h-3.3M29.50 289.44h3.3M263.50 289.44h-3.3" stroke="#c8c8c8" stroke-width="0.7" fill="none"/>
<rect x="29.50" y="278.50" width="234.00" height="194.00" fill="none" stroke="#858585" stroke-width="1"/>
<polyline points="29.60,459.99 31.78,458.91 33.97,455.68 36.15,451.92 38.33,458.91 40.52,458.91 42.70,449.23 44.88,456.76 47.06,450.84 49.25,460.52 51.43,457.83 53.61,457.83 55.80,451.92 57.98,458.91 60.16,459.45 62.34,455.68 64.53,458.37 66.71,456.76 68.89,459.99 71.08,459.45 73.26,457.30 75.44,454.07 77.63,455.68 79.81,456.22 81.99,457.83 84.17,455.14 86.36,460.52 88.54,454.07 90.72,460.52 92.91,458.91 95.09,456.22 97.27,458.37 99.46,456.22 101.64,456.22 103.82,458.91 106.00,452.45 108.19,458.91 110.37,454.61 112.55,448.69 114.74,448.69 116.92,454.07 119.10,448.15 121.29,456.22 123.47,460.52 125.65,450.84 127.83,456.76 130.02,452.99 132.20,452.99 134.38,452.45 136.57,452.45 138.75,456.76 140.93,457.83 143.12,458.37 145.30,460.52 147.48,456.22 149.66,454.07 151.85,458.37 154.03,454.61 156.21,448.15 158.40,448.15 160.58,452.99 162.76,451.92 164.95,443.31 167.13,440.08 169.31,443.85 171.49,438.47 173.68,446.54 175.86,439.00 178.04,446.54 180.23,447.61 182.41,434.16 184.59,447.07 186.78,443.85 188.96,442.23 191.14,441.16 193.32,445.46 195.51,440.08 197.69,436.85 199.87,443.85 202.06,434.70 204.24,441.16 206.42,423.40 208.61,435.78 210.79,430.93 212.97,423.94 215.15,422.33 217.34,420.71 219.52,430.93 221.70,429.32 223.89,414.79 226.07,430.93 228.25,426.09 230.44,420.17 232.62,424.48 234.80,408.88 236.98,416.41 239.17,415.33 241.35,408.88 243.53,419.10 245.72,407.80 247.90,418.56 250.08,417.48 252.27,407.26 254.45,417.48 256.63,405.65 258.81,400.27 261.00,401.88 263.18,399.19" fill="none" stroke="#f4726a" stroke-width="1.15" stroke-linejoin="round"/>
<path d="M28.40 458.79l2.4 2.4m0 -2.4l-2.4 2.4M30.58 457.71l2.4 2.4m0 -2.4l-2.4 2.4M32.77 454.48l2.4 2.4m0 -2.4l-2.4 2.4M34.95 450.72l2.4 2.4m0 -2.4l-2.4 2.4M37.13 457.71l2.4 2.4m0 -2.4l-2.4 2.4M39.31 457.71l2.4 2.4m0 -2.4l-2.4 2.4M41.50 448.03l2.4 2.4m0 -2.4l-2.4 2.4M43.68 455.56l2.4 2.4m0 -2.4l-2.4 2.4M45.86 449.64l2.4 2.4m0 -2.4l-2.4 2.4M48.05 459.32l2.4 2.4m0 -2.4l-2.4 2.4M50.23 456.63l2.4 2.4m0 -2.4l-2.4 2.4M52.41 456.63l2.4 2.4m0 -2.4l-2.4 2.4M54.60 450.72l2.4 2.4m0 -2.4l-2.4 2.4M56.78 457.71l2.4 2.4m0 -2.4l-2.4 2.4M58.96 458.25l2.4 2.4m0 -2.4l-2.4 2.4M61.14 454.48l2.4 2.4m0 -2.4l-2.4 2.4M63.33 457.17l2.4 2.4m0 -2.4l-2.4 2.4M65.51 455.56l2.4 2.4m0 -2.4l-2.4 2.4M67.69 458.79l2.4 2.4m0 -2.4l-2.4 2.4M69.88 458.25l2.4 2.4m0 -2.4l-2.4 2.4M72.06 456.10l2.4 2.4m0 -2.4l-2.4 2.4M74.24 452.87l2.4 2.4m0 -2.4l-2.4 2.4M76.43 454.48l2.4 2.4m0 -2.4l-2.4 2.4M78.61 455.02l2.4 2.4m0 -2.4l-2.4 2.4M80.79 456.63l2.4 2.4m0 -2.4l-2.4 2.4M82.97 453.94l2.4 2.4m0 -2.4l-2.4 2.4M85.16 459.32l2.4 2.4m0 -2.4l-2.4 2.4M87.34 452.87l2.4 2.4m0 -2.4l-2.4 2.4M89.52 459.32l2.4 2.4m0 -2.4l-2.4 2.4M91.71 457.71l2.4 2.4m0 -2.4l-2.4 2.4M93.89 455.02l2.4 2.4m0 -2.4l-2.4 2.4M96.07 457.17l2.4 2.4m0 -2.4l-2.4 2.4M98.26 455.02l2.4 2.4m0 -2.4l-2.4 2.4M100.44 455.02l2.4 2.4m0 -2.4l-2.4 2.4M102.62 457.71l2.4 2.4m0 -2.4l-2.4 2.4M104.80 451.25l2.4 2.4m0 -2.4l-2.4 2.4M106.99 457.71l2.4 2.4m0 -2.4l-2.4 2.4M109.17 453.41l2.4 2.4m0 -2.4l-2.4 2.4M111.35 447.49l2.4 2.4m0 -2.4l-2.4 2.4M113.54 447.49l2.4 2.4m0 -2.4l-2.4 2.4M115.72 452.87l2.4 2.4m0 -2.4l-2.4 2.4M117.90 446.95l2.4 2.4m0 -2.4l-2.4 2.4M120.09 455.02l2.4 2.4m0 -2.4l-2.4 2.4M122.27 459.32l2.4 2.4m0 -2.4l-2.4 2.4M124.45 449.64l2.4 2.4m0 -2.4l-2.4 2.4M126.63 455.56l2.4 2.4m0 -2.4l-2.4 2.4M128.82 451.79l2.4 2.4m0 -2.4l-2.4 2.4M131.00 451.79l2.4 2.4m0 -2.4l-2.4 2.4M133.18 451.25l2.4 2.4m0 -2.4l-2.4 2.4M135.37 451.25l2.4 2.4m0 -2.4l-2.4 2.4M137.55 455.56l2.4 2.4m0 -2.4l-2.4 2.4M139.73 456.63l2.4 2.4m0 -2.4l-2.4 2.4M141.92 457.17l2.4 2.4m0 -2.4l-2.4 2.4M144.10 459.32l2.4 2.4m0 -2.4l-2.4 2.4M146.28 455.02l2.4 2.4m0 -2.4l-2.4 2.4M148.47 452.87l2.4 2.4m0 -2.4l-2.4 2.4M150.65 457.17l2.4 2.4m0 -2.4l-2.4 2.4M152.83 453.41l2.4 2.4m0 -2.4l-2.4 2.4M155.01 446.95l2.4 2.4m0 -2.4l-2.4 2.4M157.20 446.95l2.4 2.4m0 -2.4l-2.4 2.4M159.38 451.79l2.4 2.4m0 -2.4l-2.4 2.4M161.56 450.72l2.4 2.4m0 -2.4l-2.4 2.4M163.75 442.11l2.4 2.4m0 -2.4l-2.4 2.4M165.93 438.88l2.4 2.4m0 -2.4l-2.4 2.4M168.11 442.65l2.4 2.4m0 -2.4l-2.4 2.4M170.29 437.27l2.4 2.4m0 -2.4l-2.4 2.4M172.48 445.34l2.4 2.4m0 -2.4l-2.4 2.4M174.66 437.80l2.4 2.4m0 -2.4l-2.4 2.4M176.84 445.34l2.4 2.4m0 -2.4l-2.4 2.4M179.03 446.41l2.4 2.4m0 -2.4l-2.4 2.4M181.21 432.96l2.4 2.4m0 -2.4l-2.4 2.4M183.39 445.87l2.4 2.4m0 -2.4l-2.4 2.4M185.58 442.65l2.4 2.4m0 -2.4l-2.4 2.4M187.76 441.03l2.4 2.4m0 -2.4l-2.4 2.4M189.94 439.96l2.4 2.4m0 -2.4l-2.4 2.4M192.12 444.26l2.4 2.4m0 -2.4l-2.4 2.4M194.31 438.88l2.4 2.4m0 -2.4l-2.4 2.4M196.49 435.65l2.4 2.4m0 -2.4l-2.4 2.4M198.67 442.65l2.4 2.4m0 -2.4l-2.4 2.4M200.86 433.50l2.4 2.4m0 -2.4l-2.4 2.4M203.04 439.96l2.4 2.4m0 -2.4l-2.4 2.4M205.22 422.20l2.4 2.4m0 -2.4l-2.4 2.4M207.41 434.58l2.4 2.4m0 -2.4l-2.4 2.4M209.59 429.73l2.4 2.4m0 -2.4l-2.4 2.4M211.77 422.74l2.4 2.4m0 -2.4l-2.4 2.4M213.95 421.13l2.4 2.4m0 -2.4l-2.4 2.4M216.14 419.51l2.4 2.4m0 -2.4l-2.4 2.4M218.32 429.73l2.4 2.4m0 -2.4l-2.4 2.4M220.50 428.12l2.4 2.4m0 -2.4l-2.4 2.4M222.69 413.59l2.4 2.4m0 -2.4l-2.4 2.4M224.87 429.73l2.4 2.4m0 -2.4l-2.4 2.4M227.05 424.89l2.4 2.4m0 -2.4l-2.4 2.4M229.24 418.97l2.4 2.4m0 -2.4l-2.4 2.4M231.42 423.28l2.4 2.4m0 -2.4l-2.4 2.4M233.60 407.68l2.4 2.4m0 -2.4l-2.4 2.4M235.78 415.21l2.4 2.4m0 -2.4l-2.4 2.4M237.97 414.13l2.4 2.4m0 -2.4l-2.4 2.4M240.15 407.68l2.4 2.4m0 -2.4l-2.4 2.4M242.33 417.90l2.4 2.4m0 -2.4l-2.4 2.4M244.52 406.60l2.4 2.4m0 -2.4l-2.4 2.4M246.70 417.36l2.4 2.4m0 -2.4l-2.4 2.4M248.88 416.28l2.4 2.4m0 -2.4l-2.4 2.4M251.07 406.06l2.4 2.4m0 -2.4l-2.4 2.4M253.25 416.28l2.4 2.4m0 -2.4l-2.4 2.4M255.43 404.45l2.4 2.4m0 -2.4l-2.4 2.4M257.62 399.07l2.4 2.4m0 -2.4l-2.4 2.4M259.80 400.68l2.4 2.4m0 -2.4l-2.4 2.4M261.98 397.99l2.4 2.4m0 -2.4l-2.4 2.4" stroke="#f4726a" stroke-width="1.35" fill="none"/>
<polyline points="29.60,460.52 31.78,458.91 33.97,455.14 36.15,451.38 38.33,459.45 40.52,459.99 42.70,449.23 44.88,457.30 47.06,449.76 49.25,461.06 51.43,458.37 53.61,457.83 55.80,451.38 57.98,458.37 60.16,458.91 62.34,455.14 64.53,458.91 66.71,456.22 68.89,459.99 71.08,460.52 73.26,456.76 75.44,452.99 77.63,454.07 79.81,454.07 81.99,455.68 84.17,458.37 86.36,457.30 88.54,451.92 90.72,457.30 92.91,459.45 95.09,458.91 97.27,458.37 99.46,452.99 101.64,456.76 103.82,457.30 106.00,455.68 108.19,457.30 110.37,459.45 112.55,457.83 114.74,457.30 116.92,459.45 119.10,455.68 121.29,453.53 123.47,457.83 125.65,459.45 127.83,453.53 130.02,457.30 132.20,457.83 134.38,455.68 136.57,457.30 138.75,458.91 140.93,456.76 143.12,454.07 145.30,449.76 147.48,458.91 149.66,456.22 151.85,458.91 154.03,456.22 156.21,458.91 158.40,456.22 160.58,459.99 162.76,456.22 164.95,454.07 167.13,450.84 169.31,454.07 171.49,448.69 173.68,455.68 175.86,449.23 178.04,458.37 180.23,459.45 182.41,450.30 184.59,459.99 186.78,456.22 188.96,454.61 191.14,454.07 193.32,456.22 195.51,452.45 197.69,450.84 199.87,455.68 202.06,448.69 204.24,454.07 206.42,439.54 208.61,447.61 210.79,444.92 212.97,439.54 215.15,438.47 217.34,437.93 219.52,445.46 221.70,444.92 223.89,434.16 226.07,447.07 228.25,443.85 230.44,438.47 232.62,441.69 234.80,428.78 236.98,435.78 239.17,434.70 241.35,429.32 243.53,437.93 245.72,429.32 247.90,438.47 250.08,438.47 252.27,429.86 254.45,438.47 256.63,427.17 258.81,423.40 261.00,425.55 263.18,422.86" fill="none" stroke="#8a4a8c" stroke-width="1.15" stroke-linejoin="round"/>
<path d="M28.40 459.32l2.4 2.4m0 -2.4l-2.4 2.4M30.58 457.71l2.4 2.4m0 -2.4l-2.4 2.4M32.77 453.94l2.4 2.4m0 -2.4l-2.4 2.4M34.95 450.18l2.4 2.4m0 -2.4l-2.4 2.4M37.13 458.25l2.4 2.4m0 -2.4l-2.4 2.4M39.31 458.79l2.4 2.4m0 -2.4l-2.4 2.4M41.50 448.03l2.4 2.4m0 -2.4l-2.4 2.4M43.68 456.10l2.4 2.4m0 -2.4l-2.4 2.4M45.86 448.56l2.4 2.4m0 -2.4l-2.4 2.4M48.05 459.86l2.4 2.4m0 -2.4l-2.4 2.4M50.23 457.17l2.4 2.4m0 -2.4l-2.4 2.4M52.41 456.63l2.4 2.4m0 -2.4l-2.4 2.4M54.60 450.18l2.4 2.4m0 -2.4l-2.4 2.4M56.78 457.17l2.4 2.4m0 -2.4l-2.4 2.4M58.96 457.71l2.4 2.4m0 -2.4l-2.4 2.4M61.14 453.94l2.4 2.4m0 -2.4l-2.4 2.4M63.33 457.71l2.4 2.4m0 -2.4l-2.4 2.4M65.51 455.02l2.4 2.4m0 -2.4l-2.4 2.4M67.69 458.79l2.4 2.4m0 -2.4l-2.4 2.4M69.88 459.32l2.4 2.4m0 -2.4l-2.4 2.4M72.06 455.56l2.4 2.4m0 -2.4l-2.4 2.4M74.24 451.79l2.4 2.4m0 -2.4l-2.4 2.4M76.43 452.87l2.4 2.4m0 -2.4l-2.4 2.4M78.61 452.87l2.4 2.4m0 -2.4l-2.4 2.4M80.79 454.48l2.4 2.4m0 -2.4l-2.4 2.4M82.97 457.17l2.4 2.4m0 -2.4l-2.4 2.4M85.16 456.10l2.4 2.4m0 -2.4l-2.4 2.4M87.34 450.72l2.4 2.4m0 -2.4l-2.4 2.4M89.52 456.10l2.4 2.4m0 -2.4l-2.4 2.4M91.71 458.25l2.4 2.4m0 -2.4l-2.4 2.4M93.89 457.71l2.4 2.4m0 -2.4l-2.4 2.4M96.07 457.17l2.4 2.4m0 -2.4l-2.4 2.4M98.26 451.79l2.4 2.4m0 -2.4l-2.4 2.4M100.44 455.56l2.4 2.4m0 -2.4l-2.4 2.4M102.62 456.10l2.4 2.4m0 -2.4l-2.4 2.4M104.80 454.48l2.4 2.4m0 -2.4l-2.4 2.4M106.99 456.10l2.4 2.4m0 -2.4l-2.4 2.4M109.17 458.25l2.4 2.4m0 -2.4l-2.4 2.4M111.35 456.63l2.4 2.4m0 -2.4l-2.4 2.4M113.54 456.10l2.4 2.4m0 -2.4l-2.4 2.4M115.72 458.25l2.4 2.4m0 -2.4l-2.4 2.4M117.90 454.48l2.4 2.4m0 -2.4l-2.4 2.4M120.09 452.33l2.4 2.4m0 -2.4l-2.4 2.4M122.27 456.63l2.4 2.4m0 -2.4l-2.4 2.4M124.45 458.25l2.4 2.4m0 -2.4l-2.4 2.4M126.63 452.33l2.4 2.4m0 -2.4l-2.4 2.4M128.82 456.10l2.4 2.4m0 -2.4l-2.4 2.4M131.00 456.63l2.4 2.4m0 -2.4l-2.4 2.4M133.18 454.48l2.4 2.4m0 -2.4l-2.4 2.4M135.37 456.10l2.4 2.4m0 -2.4l-2.4 2.4M137.55 457.71l2.4 2.4m0 -2.4l-2.4 2.4M139.73 455.56l2.4 2.4m0 -2.4l-2.4 2.4M141.92 452.87l2.4 2.4m0 -2.4l-2.4 2.4M144.10 448.56l2.4 2.4m0 -2.4l-2.4 2.4M146.28 457.71l2.4 2.4m0 -2.4l-2.4 2.4M148.47 455.02l2.4 2.4m0 -2.4l-2.4 2.4M150.65 457.71l2.4 2.4m0 -2.4l-2.4 2.4M152.83 455.02l2.4 2.4m0 -2.4l-2.4 2.4M155.01 457.71l2.4 2.4m0 -2.4l-2.4 2.4M157.20 455.02l2.4 2.4m0 -2.4l-2.4 2.4M159.38 458.79l2.4 2.4m0 -2.4l-2.4 2.4M161.56 455.02l2.4 2.4m0 -2.4l-2.4 2.4M163.75 452.87l2.4 2.4m0 -2.4l-2.4 2.4M165.93 449.64l2.4 2.4m0 -2.4l-2.4 2.4M168.11 452.87l2.4 2.4m0 -2.4l-2.4 2.4M170.29 447.49l2.4 2.4m0 -2.4l-2.4 2.4M172.48 454.48l2.4 2.4m0 -2.4l-2.4 2.4M174.66 448.03l2.4 2.4m0 -2.4l-2.4 2.4M176.84 457.17l2.4 2.4m0 -2.4l-2.4 2.4M179.03 458.25l2.4 2.4m0 -2.4l-2.4 2.4M181.21 449.10l2.4 2.4m0 -2.4l-2.4 2.4M183.39 458.79l2.4 2.4m0 -2.4l-2.4 2.4M185.58 455.02l2.4 2.4m0 -2.4l-2.4 2.4M187.76 453.41l2.4 2.4m0 -2.4l-2.4 2.4M189.94 452.87l2.4 2.4m0 -2.4l-2.4 2.4M192.12 455.02l2.4 2.4m0 -2.4l-2.4 2.4M194.31 451.25l2.4 2.4m0 -2.4l-2.4 2.4M196.49 449.64l2.4 2.4m0 -2.4l-2.4 2.4M198.67 454.48l2.4 2.4m0 -2.4l-2.4 2.4M200.86 447.49l2.4 2.4m0 -2.4l-2.4 2.4M203.04 452.87l2.4 2.4m0 -2.4l-2.4 2.4M205.22 438.34l2.4 2.4m0 -2.4l-2.4 2.4M207.41 446.41l2.4 2.4m0 -2.4l-2.4 2.4M209.59 443.72l2.4 2.4m0 -2.4l-2.4 2.4M211.77 438.34l2.4 2.4m0 -2.4l-2.4 2.4M213.95 437.27l2.4 2.4m0 -2.4l-2.4 2.4M216.14 436.73l2.4 2.4m0 -2.4l-2.4 2.4M218.32 444.26l2.4 2.4m0 -2.4l-2.4 2.4M220.50 443.72l2.4 2.4m0 -2.4l-2.4 2.4M222.69 432.96l2.4 2.4m0 -2.4l-2.4 2.4M224.87 445.87l2.4 2.4m0 -2.4l-2.4 2.4M227.05 442.65l2.4 2.4m0 -2.4l-2.4 2.4M229.24 437.27l2.4 2.4m0 -2.4l-2.4 2.4M231.42 440.49l2.4 2.4m0 -2.4l-2.4 2.4M233.60 427.58l2.4 2.4m0 -2.4l-2.4 2.4M235.78 434.58l2.4 2.4m0 -2.4l-2.4 2.4M237.97 433.50l2.4 2.4m0 -2.4l-2.4 2.4M240.15 428.12l2.4 2.4m0 -2.4l-2.4 2.4M242.33 436.73l2.4 2.4m0 -2.4l-2.4 2.4M244.52 428.12l2.4 2.4m0 -2.4l-2.4 2.4M246.70 437.27l2.4 2.4m0 -2.4l-2.4 2.4M248.88 437.27l2.4 2.4m0 -2.4l-2.4 2.4M251.07 428.66l2.4 2.4m0 -2.4l-2.4 2.4M253.25 437.27l2.4 2.4m0 -2.4l-2.4 2.4M255.43 425.97l2.4 2.4m0 -2.4l-2.4 2.4M257.62 422.20l2.4 2.4m0 -2.4l-2.4 2.4M259.80 424.35l2.4 2.4m0 -2.4l-2.4 2.4M261.98 421.66l2.4 2.4m0 -2.4l-2.4 2.4" stroke="#8a4a8c" stroke-width="1.35" fill="none"/>
<polyline points="29.60,459.99 31.78,458.91 33.97,454.61 36.15,450.30 38.33,458.91 40.52,458.91 42.70,449.76 44.88,456.76 47.06,450.30 49.25,460.52 51.43,457.83 53.61,457.83 55.80,450.84 57.98,458.91 60.16,458.91 62.34,454.61 64.53,458.91 66.71,455.68 68.89,459.99 71.08,460.52 73.26,456.22 75.44,451.92 77.63,452.45 79.81,452.45 81.99,454.07 84.17,458.37 86.36,456.22 88.54,450.30 90.72,455.68 92.91,458.91 95.09,458.91 97.27,457.83 99.46,450.30 101.64,456.22 103.82,456.22 106.00,456.22 108.19,456.22 110.37,459.99 112.55,458.91 114.74,457.83 116.92,459.99 119.10,456.22 121.29,451.92 123.47,456.22 125.65,459.99 127.83,451.92 130.02,457.83 132.20,458.37 134.38,456.22 136.57,457.83 138.75,458.91 140.93,456.22 143.12,451.92 145.30,451.92 147.48,458.37 149.66,451.92 151.85,458.91 154.03,451.92 156.21,457.83 158.40,458.91 160.58,454.61 162.76,451.92 164.95,459.99 167.13,457.83 169.31,459.99 171.49,456.22 173.68,457.83 175.86,455.14 178.04,452.45 180.23,452.45 182.41,456.22 184.59,455.68 186.78,457.83 188.96,458.91 191.14,459.99 193.32,456.22 195.51,459.99 197.69,459.45 199.87,456.22 202.06,457.83 204.24,459.45 206.42,449.23 208.61,459.45 210.79,456.22 212.97,450.84 215.15,449.23 217.34,449.23 219.52,456.22 221.70,456.22 223.89,446.54 226.07,458.91 228.25,456.22 230.44,450.30 232.62,454.07 234.80,441.69 236.98,448.69 239.17,447.61 241.35,442.23 243.53,451.92 245.72,443.31 247.90,452.45 250.08,452.45 252.27,443.31 254.45,452.99 256.63,442.77 258.81,439.00 261.00,441.16 263.18,440.08" fill="none" stroke="#22a7cf" stroke-width="1.15" stroke-linejoin="round"/>
<path d="M28.40 458.79l2.4 2.4m0 -2.4l-2.4 2.4M30.58 457.71l2.4 2.4m0 -2.4l-2.4 2.4M32.77 453.41l2.4 2.4m0 -2.4l-2.4 2.4M34.95 449.10l2.4 2.4m0 -2.4l-2.4 2.4M37.13 457.71l2.4 2.4m0 -2.4l-2.4 2.4M39.31 457.71l2.4 2.4m0 -2.4l-2.4 2.4M41.50 448.56l2.4 2.4m0 -2.4l-2.4 2.4M43.68 455.56l2.4 2.4m0 -2.4l-2.4 2.4M45.86 449.10l2.4 2.4m0 -2.4l-2.4 2.4M48.05 459.32l2.4 2.4m0 -2.4l-2.4 2.4M50.23 456.63l2.4 2.4m0 -2.4l-2.4 2.4M52.41 456.63l2.4 2.4m0 -2.4l-2.4 2.4M54.60 449.64l2.4 2.4m0 -2.4l-2.4 2.4M56.78 457.71l2.4 2.4m0 -2.4l-2.4 2.4M58.96 457.71l2.4 2.4m0 -2.4l-2.4 2.4M61.14 453.41l2.4 2.4m0 -2.4l-2.4 2.4M63.33 457.71l2.4 2.4m0 -2.4l-2.4 2.4M65.51 454.48l2.4 2.4m0 -2.4l-2.4 2.4M67.69 458.79l2.4 2.4m0 -2.4l-2.4 2.4M69.88 459.32l2.4 2.4m0 -2.4l-2.4 2.4M72.06 455.02l2.4 2.4m0 -2.4l-2.4 2.4M74.24 450.72l2.4 2.4m0 -2.4l-2.4 2.4M76.43 451.25l2.4 2.4m0 -2.4l-2.4 2.4M78.61 451.25l2.4 2.4m0 -2.4l-2.4 2.4M80.79 452.87l2.4 2.4m0 -2.4l-2.4 2.4M82.97 457.17l2.4 2.4m0 -2.4l-2.4 2.4M85.16 455.02l2.4 2.4m0 -2.4l-2.4 2.4M87.34 449.10l2.4 2.4m0 -2.4l-2.4 2.4M89.52 454.48l2.4 2.4m0 -2.4l-2.4 2.4M91.71 457.71l2.4 2.4m0 -2.4l-2.4 2.4M93.89 457.71l2.4 2.4m0 -2.4l-2.4 2.4M96.07 456.63l2.4 2.4m0 -2.4l-2.4 2.4M98.26 449.10l2.4 2.4m0 -2.4l-2.4 2.4M100.44 455.02l2.4 2.4m0 -2.4l-2.4 2.4M102.62 455.02l2.4 2.4m0 -2.4l-2.4 2.4M104.80 455.02l2.4 2.4m0 -2.4l-2.4 2.4M106.99 455.02l2.4 2.4m0 -2.4l-2.4 2.4M109.17 458.79l2.4 2.4m0 -2.4l-2.4 2.4M111.35 457.71l2.4 2.4m0 -2.4l-2.4 2.4M113.54 456.63l2.4 2.4m0 -2.4l-2.4 2.4M115.72 458.79l2.4 2.4m0 -2.4l-2.4 2.4M117.90 455.02l2.4 2.4m0 -2.4l-2.4 2.4M120.09 450.72l2.4 2.4m0 -2.4l-2.4 2.4M122.27 455.02l2.4 2.4m0 -2.4l-2.4 2.4M124.45 458.79l2.4 2.4m0 -2.4l-2.4 2.4M126.63 450.72l2.4 2.4m0 -2.4l-2.4 2.4M128.82 456.63l2.4 2.4m0 -2.4l-2.4 2.4M131.00 457.17l2.4 2.4m0 -2.4l-2.4 2.4M133.18 455.02l2.4 2.4m0 -2.4l-2.4 2.4M135.37 456.63l2.4 2.4m0 -2.4l-2.4 2.4M137.55 457.71l2.4 2.4m0 -2.4l-2.4 2.4M139.73 455.02l2.4 2.4m0 -2.4l-2.4 2.4M141.92 450.72l2.4 2.4m0 -2.4l-2.4 2.4M144.10 450.72l2.4 2.4m0 -2.4l-2.4 2.4M146.28 457.17l2.4 2.4m0 -2.4l-2.4 2.4M148.47 450.72l2.4 2.4m0 -2.4l-2.4 2.4M150.65 457.71l2.4 2.4m0 -2.4l-2.4 2.4M152.83 450.72l2.4 2.4m0 -2.4l-2.4 2.4M155.01 456.63l2.4 2.4m0 -2.4l-2.4 2.4M157.20 457.71l2.4 2.4m0 -2.4l-2.4 2.4M159.38 453.41l2.4 2.4m0 -2.4l-2.4 2.4M161.56 450.72l2.4 2.4m0 -2.4l-2.4 2.4M163.75 458.79l2.4 2.4m0 -2.4l-2.4 2.4M165.93 456.63l2.4 2.4m0 -2.4l-2.4 2.4M168.11 458.79l2.4 2.4m0 -2.4l-2.4 2.4M170.29 455.02l2.4 2.4m0 -2.4l-2.4 2.4M172.48 456.63l2.4 2.4m0 -2.4l-2.4 2.4M174.66 453.94l2.4 2.4m0 -2.4l-2.4 2.4M176.84 451.25l2.4 2.4m0 -2.4l-2.4 2.4M179.03 451.25l2.4 2.4m0 -2.4l-2.4 2.4M181.21 455.02l2.4 2.4m0 -2.4l-2.4 2.4M183.39 454.48l2.4 2.4m0 -2.4l-2.4 2.4M185.58 456.63l2.4 2.4m0 -2.4l-2.4 2.4M187.76 457.71l2.4 2.4m0 -2.4l-2.4 2.4M189.94 458.79l2.4 2.4m0 -2.4l-2.4 2.4M192.12 455.02l2.4 2.4m0 -2.4l-2.4 2.4M194.31 458.79l2.4 2.4m0 -2.4l-2.4 2.4M196.49 458.25l2.4 2.4m0 -2.4l-2.4 2.4M198.67 455.02l2.4 2.4m0 -2.4l-2.4 2.4M200.86 456.63l2.4 2.4m0 -2.4l-2.4 2.4M203.04 458.25l2.4 2.4m0 -2.4l-2.4 2.4M205.22 448.03l2.4 2.4m0 -2.4l-2.4 2.4M207.41 458.25l2.4 2.4m0 -2.4l-2.4 2.4M209.59 455.02l2.4 2.4m0 -2.4l-2.4 2.4M211.77 449.64l2.4 2.4m0 -2.4l-2.4 2.4M213.95 448.03l2.4 2.4m0 -2.4l-2.4 2.4M216.14 448.03l2.4 2.4m0 -2.4l-2.4 2.4M218.32 455.02l2.4 2.4m0 -2.4l-2.4 2.4M220.50 455.02l2.4 2.4m0 -2.4l-2.4 2.4M222.69 445.34l2.4 2.4m0 -2.4l-2.4 2.4M224.87 457.71l2.4 2.4m0 -2.4l-2.4 2.4M227.05 455.02l2.4 2.4m0 -2.4l-2.4 2.4M229.24 449.10l2.4 2.4m0 -2.4l-2.4 2.4M231.42 452.87l2.4 2.4m0 -2.4l-2.4 2.4M233.60 440.49l2.4 2.4m0 -2.4l-2.4 2.4M235.78 447.49l2.4 2.4m0 -2.4l-2.4 2.4M237.97 446.41l2.4 2.4m0 -2.4l-2.4 2.4M240.15 441.03l2.4 2.4m0 -2.4l-2.4 2.4M242.33 450.72l2.4 2.4m0 -2.4l-2.4 2.4M244.52 442.11l2.4 2.4m0 -2.4l-2.4 2.4M246.70 451.25l2.4 2.4m0 -2.4l-2.4 2.4M248.88 451.25l2.4 2.4m0 -2.4l-2.4 2.4M251.07 442.11l2.4 2.4m0 -2.4l-2.4 2.4M253.25 451.79l2.4 2.4m0 -2.4l-2.4 2.4M255.43 441.57l2.4 2.4m0 -2.4l-2.4 2.4M257.62 437.80l2.4 2.4m0 -2.4l-2.4 2.4M259.80 439.96l2.4 2.4m0 -2.4l-2.4 2.4M261.98 438.88l2.4 2.4m0 -2.4l-2.4 2.4" stroke="#22a7cf" stroke-width="1.35" fill="none"/>
<text x="26.50" y="464.50" text-anchor="end">0</text>
<text x="26.50" y="442.98" text-anchor="end">0.002</text>
<text x="26.50" y="421.46" text-anchor="end">0.004</text>
<text x="26.50" y="399.94" text-anchor="end">0.006</text>
<text x="26.50" y="378.42" text-anchor="end">0.008</text>
<text x="26.50" y="356.90" text-anchor="end">0.01</text>
<text x="26.50" y="335.38" text-anchor="end">0.012</text>
<text x="26.50" y="313.86" text-anchor="end">0.014</text>
<text x="26.50" y="292.34" text-anchor="end">0.016</text>
<text x="47.26" y="482.00" text-anchor="middle">1920</text>
<text x="90.92" y="482.00" text-anchor="middle">1940</text>
<text x="134.58" y="482.00" text-anchor="middle">1960</text>
<text x="178.24" y="482.00" text-anchor="middle">1980</text>
<text x="221.90" y="482.00" text-anchor="middle">2000</text>
<text x="146.30" y="268.70" text-anchor="middle" textLength="118.2" lengthAdjust="spacingAndGlyphs">Switzerland - MAPE for age 60</text>
<path d="M327.06 472.50v-3.3M327.06 278.50v3.3M370.72 472.50v-3.3M370.72 278.50v3.3M414.38 472.50v-3.3M414.38 278.50v3.3M458.04 472.50v-3.3M458.04 278.50v3.3M501.70 472.50v-3.3M501.70 278.50v3.3M309.50 461.60h3.3M543.50 461.60h-3.3M309.50 440.08h3.3M543.50 440.08h-3.3M309.50 418.56h3.3M543.50 418.56h-3.3M309.50 397.04h3.3M543.50 397.04h-3.3M309.50 375.52h3.3M543.50 375.52h-3.3M309.50 354.00h3.3M543.50 354.00h-3.3M309.50 332.48h3.3M543.50 332.48h-3.3M309.50 310.96h3.3M543.50 310.96h-3.3M309.50 289.44h3.3M543.50 289.44h-3.3" stroke="#c8c8c8" stroke-width="0.7" fill="none"/>
<rect x="309.50" y="278.50" width="234.00" height="194.00" fill="none" stroke="#858585" stroke-width="1"/>
<polyline points="309.60,437.39 311.78,449.76 313.97,444.92 316.15,447.07 318.33,448.69 320.52,461.06 322.70,449.76 324.88,458.37 327.06,456.22 329.25,454.07 331.43,461.06 333.61,448.69 335.80,457.83 337.98,458.91 340.16,455.14 342.35,458.37 344.53,446.54 346.71,458.91 348.89,447.61 351.08,458.91 353.26,458.91 355.44,446.54 357.63,459.45 359.81,456.22 361.99,447.61 364.18,453.53 366.36,451.92 368.54,454.07 370.72,454.61 372.91,450.84 375.09,456.22 377.27,454.07 379.46,454.07 381.64,457.83 383.82,459.99 386.00,456.22 388.19,457.83 390.37,458.91 392.55,461.06 394.74,460.52 396.92,458.91 399.10,451.92 401.29,459.99 403.47,456.22 405.65,450.30 407.84,457.83 410.02,454.61 412.20,458.91 414.38,453.53 416.57,456.22 418.75,453.53 420.93,451.92 423.12,458.91 425.30,458.37 427.48,459.99 429.67,457.83 431.85,450.84 434.03,458.91 436.21,456.22 438.40,458.91 440.58,458.91 442.76,456.22 444.95,454.07 447.13,451.92 449.31,450.84 451.50,448.15 453.68,452.45 455.86,444.92 458.04,448.69 460.23,449.23 462.41,449.23 464.59,447.61 466.78,442.77 468.96,443.85 471.14,443.85 473.33,438.47 475.51,439.54 477.69,439.54 479.87,444.92 482.06,437.39 484.24,439.54 486.42,434.70 488.61,438.47 490.79,434.70 492.97,437.39 495.15,435.78 497.34,437.39 499.52,439.54 501.70,440.08 503.89,426.63 506.07,430.40 508.25,430.40 510.44,423.94 512.62,417.48 514.80,414.79 516.99,412.64 519.17,412.10 521.35,417.48 523.53,417.48 525.72,408.88 527.90,412.10 530.08,412.10 532.27,409.95 534.45,416.41 536.63,413.72 538.82,412.10 541.00,408.88 543.18,402.96" fill="none" stroke="#f4726a" stroke-width="1.15" stroke-linejoin="round"/>
<path d="M308.40 436.19l2.4 2.4m0 -2.4l-2.4 2.4M310.58 448.56l2.4 2.4m0 -2.4l-2.4 2.4M312.77 443.72l2.4 2.4m0 -2.4l-2.4 2.4M314.95 445.87l2.4 2.4m0 -2.4l-2.4 2.4M317.13 447.49l2.4 2.4m0 -2.4l-2.4 2.4M319.32 459.86l2.4 2.4m0 -2.4l-2.4 2.4M321.50 448.56l2.4 2.4m0 -2.4l-2.4 2.4M323.68 457.17l2.4 2.4m0 -2.4l-2.4 2.4M325.86 455.02l2.4 2.4m0 -2.4l-2.4 2.4M328.05 452.87l2.4 2.4m0 -2.4l-2.4 2.4M330.23 459.86l2.4 2.4m0 -2.4l-2.4 2.4M332.41 447.49l2.4 2.4m0 -2.4l-2.4 2.4M334.60 456.63l2.4 2.4m0 -2.4l-2.4 2.4M336.78 457.71l2.4 2.4m0 -2.4l-2.4 2.4M338.96 453.94l2.4 2.4m0 -2.4l-2.4 2.4M341.15 457.17l2.4 2.4m0 -2.4l-2.4 2.4M343.33 445.34l2.4 2.4m0 -2.4l-2.4 2.4M345.51 457.71l2.4 2.4m0 -2.4l-2.4 2.4M347.69 446.41l2.4 2.4m0 -2.4l-2.4 2.4M349.88 457.71l2.4 2.4m0 -2.4l-2.4 2.4M352.06 457.71l2.4 2.4m0 -2.4l-2.4 2.4M354.24 445.34l2.4 2.4m0 -2.4l-2.4 2.4M356.43 458.25l2.4 2.4m0 -2.4l-2.4 2.4M358.61 455.02l2.4 2.4m0 -2.4l-2.4 2.4M360.79 446.41l2.4 2.4m0 -2.4l-2.4 2.4M362.98 452.33l2.4 2.4m0 -2.4l-2.4 2.4M365.16 450.72l2.4 2.4m0 -2.4l-2.4 2.4M367.34 452.87l2.4 2.4m0 -2.4l-2.4 2.4M369.52 453.41l2.4 2.4m0 -2.4l-2.4 2.4M371.71 449.64l2.4 2.4m0 -2.4l-2.4 2.4M373.89 455.02l2.4 2.4m0 -2.4l-2.4 2.4M376.07 452.87l2.4 2.4m0 -2.4l-2.4 2.4M378.26 452.87l2.4 2.4m0 -2.4l-2.4 2.4M380.44 456.63l2.4 2.4m0 -2.4l-2.4 2.4M382.62 458.79l2.4 2.4m0 -2.4l-2.4 2.4M384.81 455.02l2.4 2.4m0 -2.4l-2.4 2.4M386.99 456.63l2.4 2.4m0 -2.4l-2.4 2.4M389.17 457.71l2.4 2.4m0 -2.4l-2.4 2.4M391.35 459.86l2.4 2.4m0 -2.4l-2.4 2.4M393.54 459.32l2.4 2.4m0 -2.4l-2.4 2.4M395.72 457.71l2.4 2.4m0 -2.4l-2.4 2.4M397.90 450.72l2.4 2.4m0 -2.4l-2.4 2.4M400.09 458.79l2.4 2.4m0 -2.4l-2.4 2.4M402.27 455.02l2.4 2.4m0 -2.4l-2.4 2.4M404.45 449.10l2.4 2.4m0 -2.4l-2.4 2.4M406.64 456.63l2.4 2.4m0 -2.4l-2.4 2.4M408.82 453.41l2.4 2.4m0 -2.4l-2.4 2.4M411.00 457.71l2.4 2.4m0 -2.4l-2.4 2.4M413.18 452.33l2.4 2.4m0 -2.4l-2.4 2.4M415.37 455.02l2.4 2.4m0 -2.4l-2.4 2.4M417.55 452.33l2.4 2.4m0 -2.4l-2.4 2.4M419.73 450.72l2.4 2.4m0 -2.4l-2.4 2.4M421.92 457.71l2.4 2.4m0 -2.4l-2.4 2.4M424.10 457.17l2.4 2.4m0 -2.4l-2.4 2.4M426.28 458.79l2.4 2.4m0 -2.4l-2.4 2.4M428.47 456.63l2.4 2.4m0 -2.4l-2.4 2.4M430.65 449.64l2.4 2.4m0 -2.4l-2.4 2.4M432.83 457.71l2.4 2.4m0 -2.4l-2.4 2.4M435.01 455.02l2.4 2.4m0 -2.4l-2.4 2.4M437.20 457.71l2.4 2.4m0 -2.4l-2.4 2.4M439.38 457.71l2.4 2.4m0 -2.4l-2.4 2.4M441.56 455.02l2.4 2.4m0 -2.4l-2.4 2.4M443.75 452.87l2.4 2.4m0 -2.4l-2.4 2.4M445.93 450.72l2.4 2.4m0 -2.4l-2.4 2.4M448.11 449.64l2.4 2.4m0 -2.4l-2.4 2.4M450.30 446.95l2.4 2.4m0 -2.4l-2.4 2.4M452.48 451.25l2.4 2.4m0 -2.4l-2.4 2.4M454.66 443.72l2.4 2.4m0 -2.4l-2.4 2.4M456.84 447.49l2.4 2.4m0 -2.4l-2.4 2.4M459.03 448.03l2.4 2.4m0 -2.4l-2.4 2.4M461.21 448.03l2.4 2.4m0 -2.4l-2.4 2.4M463.39 446.41l2.4 2.4m0 -2.4l-2.4 2.4M465.58 441.57l2.4 2.4m0 -2.4l-2.4 2.4M467.76 442.65l2.4 2.4m0 -2.4l-2.4 2.4M469.94 442.65l2.4 2.4m0 -2.4l-2.4 2.4M472.13 437.27l2.4 2.4m0 -2.4l-2.4 2.4M474.31 438.34l2.4 2.4m0 -2.4l-2.4 2.4M476.49 438.34l2.4 2.4m0 -2.4l-2.4 2.4M478.67 443.72l2.4 2.4m0 -2.4l-2.4 2.4M480.86 436.19l2.4 2.4m0 -2.4l-2.4 2.4M483.04 438.34l2.4 2.4m0 -2.4l-2.4 2.4M485.22 433.50l2.4 2.4m0 -2.4l-2.4 2.4M487.41 437.27l2.4 2.4m0 -2.4l-2.4 2.4M489.59 433.50l2.4 2.4m0 -2.4l-2.4 2.4M491.77 436.19l2.4 2.4m0 -2.4l-2.4 2.4M493.95 434.58l2.4 2.4m0 -2.4l-2.4 2.4M496.14 436.19l2.4 2.4m0 -2.4l-2.4 2.4M498.32 438.34l2.4 2.4m0 -2.4l-2.4 2.4M500.50 438.88l2.4 2.4m0 -2.4l-2.4 2.4M502.69 425.43l2.4 2.4m0 -2.4l-2.4 2.4M504.87 429.20l2.4 2.4m0 -2.4l-2.4 2.4M507.05 429.20l2.4 2.4m0 -2.4l-2.4 2.4M509.24 422.74l2.4 2.4m0 -2.4l-2.4 2.4M511.42 416.28l2.4 2.4m0 -2.4l-2.4 2.4M513.60 413.59l2.4 2.4m0 -2.4l-2.4 2.4M515.78 411.44l2.4 2.4m0 -2.4l-2.4 2.4M517.97 410.90l2.4 2.4m0 -2.4l-2.4 2.4M520.15 416.28l2.4 2.4m0 -2.4l-2.4 2.4M522.33 416.28l2.4 2.4m0 -2.4l-2.4 2.4M524.52 407.68l2.4 2.4m0 -2.4l-2.4 2.4M526.70 410.90l2.4 2.4m0 -2.4l-2.4 2.4M528.88 410.90l2.4 2.4m0 -2.4l-2.4 2.4M531.07 408.75l2.4 2.4m0 -2.4l-2.4 2.4M533.25 415.21l2.4 2.4m0 -2.4l-2.4 2.4M535.43 412.52l2.4 2.4m0 -2.4l-2.4 2.4M537.62 410.90l2.4 2.4m0 -2.4l-2.4 2.4M539.80 407.68l2.4 2.4m0 -2.4l-2.4 2.4M541.98 401.76l2.4 2.4m0 -2.4l-2.4 2.4" stroke="#f4726a" stroke-width="1.35" fill="none"/>
<polyline points="309.60,437.39 311.78,450.30 313.97,444.92 316.15,447.07 318.33,448.69 320.52,461.06 322.70,450.84 324.88,458.37 327.06,456.22 329.25,454.07 331.43,461.06 333.61,449.76 335.80,457.83 337.98,460.52 340.16,455.14 342.35,458.91 344.53,450.84 346.71,460.52 348.89,451.38 351.08,458.91 353.26,458.91 355.44,450.84 357.63,459.99 359.81,458.91 361.99,451.38 364.18,456.76 366.36,451.38 368.54,453.53 370.72,450.30 372.91,452.99 375.09,458.37 377.27,459.99 379.46,450.84 381.64,454.61 383.82,457.83 386.00,454.07 388.19,454.61 390.37,455.68 392.55,456.76 394.74,457.83 396.92,456.76 399.10,449.76 401.29,461.06 403.47,453.53 405.65,447.61 407.84,456.22 410.02,460.52 412.20,457.83 414.38,450.84 416.57,457.83 418.75,450.84 420.93,448.69 423.12,457.83 425.30,454.61 427.48,454.07 429.67,454.61 431.85,448.15 434.03,456.22 436.21,452.45 438.40,454.61 440.58,455.68 442.76,460.52 444.95,459.99 447.13,459.99 449.31,458.91 451.50,458.91 453.68,460.52 455.86,456.22 458.04,458.91 460.23,460.52 462.41,459.45 464.59,458.37 466.78,454.61 468.96,455.68 471.14,455.68 473.33,451.38 475.51,451.92 477.69,451.38 479.87,456.76 482.06,449.23 484.24,451.92 486.42,447.61 488.61,450.30 490.79,447.61 492.97,450.30 495.15,448.69 497.34,450.30 499.52,451.92 501.70,454.07 503.89,442.23 506.07,444.92 508.25,444.92 510.44,439.54 512.62,433.62 514.80,432.01 516.99,430.40 519.17,429.32 521.35,433.62 523.53,433.62 525.72,427.17 527.90,430.40 530.08,430.40 532.27,428.24 534.45,434.70 536.63,432.01 538.82,430.40 541.00,428.24 543.18,423.94" fill="none" stroke="#8a4a8c" stroke-width="1.15" stroke-linejoin="round"/>
<path d="M308.40 436.19l2.4 2.4m0 -2.4l-2.4 2.4M310.58 449.10l2.4 2.4m0 -2.4l-2.4 2.4M312.77 443.72l2.4 2.4m0 -2.4l-2.4 2.4M314.95 445.87l2.4 2.4m0 -2.4l-2.4 2.4M317.13 447.49l2.4 2.4m0 -2.4l-2.4 2.4M319.32 459.86l2.4 2.4m0 -2.4l-2.4 2.4M321.50 449.64l2.4 2.4m0 -2.4l-2.4 2.4M323.68 457.17l2.4 2.4m0 -2.4l-2.4 2.4M325.86 455.02l2.4 2.4m0 -2.4l-2.4 2.4M328.05 452.87l2.4 2.4m0 -2.4l-2.4 2.4M330.23 459.86l2.4 2.4m0 -2.4l-2.4 2.4M332.41 448.56l2.4 2.4m0 -2.4l-2.4 2.4M334.60 456.63l2.4 2.4m0 -2.4l-2.4 2.4M336.78 459.32l2.4 2.4m0 -2.4l-2.4 2.4M338.96 453.94l2.4 2.4m0 -2.4l-2.4 2.4M341.15 457.71l2.4 2.4m0 -2.4l-2.4 2.4M343.33 449.64l2.4 2.4m0 -2.4l-2.4 2.4M345.51 459.32l2.4 2.4m0 -2.4l-2.4 2.4M347.69 450.18l2.4 2.4m0 -2.4l-2.4 2.4M349.88 457.71l2.4 2.4m0 -2.4l-2.4 2.4M352.06 457.71l2.4 2.4m0 -2.4l-2.4 2.4M354.24 449.64l2.4 2.4m0 -2.4l-2.4 2.4M356.43 458.79l2.4 2.4m0 -2.4l-2.4 2.4M358.61 457.71l2.4 2.4m0 -2.4l-2.4 2.4M360.79 450.18l2.4 2.4m0 -2.4l-2.4 2.4M362.98 455.56l2.4 2.4m0 -2.4l-2.4 2.4M365.16 450.18l2.4 2.4m0 -2.4l-2.4 2.4M367.34 452.33l2.4 2.4m0 -2.4l-2.4 2.4M369.52 449.10l2.4 2.4m0 -2.4l-2.4 2.4M371.71 451.79l2.4 2.4m0 -2.4l-2.4 2.4M373.89 457.17l2.4 2.4m0 -2.4l-2.4 2.4M376.07 458.79l2.4 2.4m0 -2.4l-2.4 2.4M378.26 449.64l2.4 2.4m0 -2.4l-2.4 2.4M380.44 453.41l2.4 2.4m0 -2.4l-2.4 2.4M382.62 456.63l2.4 2.4m0 -2.4l-2.4 2.4M384.81 452.87l2.4 2.4m0 -2.4l-2.4 2.4M386.99 453.41l2.4 2.4m0 -2.4l-2.4 2.4M389.17 454.48l2.4 2.4m0 -2.4l-2.4 2.4M391.35 455.56l2.4 2.4m0 -2.4l-2.4 2.4M393.54 456.63l2.4 2.4m0 -2.4l-2.4 2.4M395.72 455.56l2.4 2.4m0 -2.4l-2.4 2.4M397.90 448.56l2.4 2.4m0 -2.4l-2.4 2.4M400.09 459.86l2.4 2.4m0 -2.4l-2.4 2.4M402.27 452.33l2.4 2.4m0 -2.4l-2.4 2.4M404.45 446.41l2.4 2.4m0 -2.4l-2.4 2.4M406.64 455.02l2.4 2.4m0 -2.4l-2.4 2.4M408.82 459.32l2.4 2.4m0 -2.4l-2.4 2.4M411.00 456.63l2.4 2.4m0 -2.4l-2.4 2.4M413.18 449.64l2.4 2.4m0 -2.4l-2.4 2.4M415.37 456.63l2.4 2.4m0 -2.4l-2.4 2.4M417.55 449.64l2.4 2.4m0 -2.4l-2.4 2.4M419.73 447.49l2.4 2.4m0 -2.4l-2.4 2.4M421.92 456.63l2.4 2.4m0 -2.4l-2.4 2.4M424.10 453.41l2.4 2.4m0 -2.4l-2.4 2.4M426.28 452.87l2.4 2.4m0 -2.4l-2.4 2.4M428.47 453.41l2.4 2.4m0 -2.4l-2.4 2.4M430.65 446.95l2.4 2.4m0 -2.4l-2.4 2.4M432.83 455.02l2.4 2.4m0 -2.4l-2.4 2.4M435.01 451.25l2.4 2.4m0 -2.4l-2.4 2.4M437.20 453.41l2.4 2.4m0 -2.4l-2.4 2.4M439.38 454.48l2.4 2.4m0 -2.4l-2.4 2.4M441.56 459.32l2.4 2.4m0 -2.4l-2.4 2.4M443.75 458.79l2.4 2.4m0 -2.4l-2.4 2.4M445.93 458.79l2.4 2.4m0 -2.4l-2.4 2.4M448.11 457.71l2.4 2.4m0 -2.4l-2.4 2.4M450.30 457.71l2.4 2.4m0 -2.4l-2.4 2.4M452.48 459.32l2.4 2.4m0 -2.4l-2.4 2.4M454.66 455.02l2.4 2.4m0 -2.4l-2.4 2.4M456.84 457.71l2.4 2.4m0 -2.4l-2.4 2.4M459.03 459.32l2.4 2.4m0 -2.4l-2.4 2.4M461.21 458.25l2.4 2.4m0 -2.4l-2.4 2.4M463.39 457.17l2.4 2.4m0 -2.4l-2.4 2.4M465.58 453.41l2.4 2.4m0 -2.4l-2.4 2.4M467.76 454.48l2.4 2.4m0 -2.4l-2.4 2.4M469.94 454.48l2.4 2.4m0 -2.4l-2.4 2.4M472.13 450.18l2.4 2.4m0 -2.4l-2.4 2.4M474.31 450.72l2.4 2.4m0 -2.4l-2.4 2.4M476.49 450.18l2.4 2.4m0 -2.4l-2.4 2.4M478.67 455.56l2.4 2.4m0 -2.4l-2.4 2.4M480.86 448.03l2.4 2.4m0 -2.4l-2.4 2.4M483.04 450.72l2.4 2.4m0 -2.4l-2.4 2.4M485.22 446.41l2.4 2.4m0 -2.4l-2.4 2.4M487.41 449.10l2.4 2.4m0 -2.4l-2.4 2.4M489.59 446.41l2.4 2.4m0 -2.4l-2.4 2.4M491.77 449.10l2.4 2.4m0 -2.4l-2.4 2.4M493.95 447.49l2.4 2.4m0 -2.4l-2.4 2.4M496.14 449.10l2.4 2.4m0 -2.4l-2.4 2.4M498.32 450.72l2.4 2.4m0 -2.4l-2.4 2.4M500.50 452.87l2.4 2.4m0 -2.4l-2.4 2.4M502.69 441.03l2.4 2.4m0 -2.4l-2.4 2.4M504.87 443.72l2.4 2.4m0 -2.4l-2.4 2.4M507.05 443.72l2.4 2.4m0 -2.4l-2.4 2.4M509.24 438.34l2.4 2.4m0 -2.4l-2.4 2.4M511.42 432.42l2.4 2.4m0 -2.4l-2.4 2.4M513.60 430.81l2.4 2.4m0 -2.4l-2.4 2.4M515.78 429.20l2.4 2.4m0 -2.4l-2.4 2.4M517.97 428.12l2.4 2.4m0 -2.4l-2.4 2.4M520.15 432.42l2.4 2.4m0 -2.4l-2.4 2.4M522.33 432.42l2.4 2.4m0 -2.4l-2.4 2.4M524.52 425.97l2.4 2.4m0 -2.4l-2.4 2.4M526.70 429.20l2.4 2.4m0 -2.4l-2.4 2.4M528.88 429.20l2.4 2.4m0 -2.4l-2.4 2.4M531.07 427.04l2.4 2.4m0 -2.4l-2.4 2.4M533.25 433.50l2.4 2.4m0 -2.4l-2.4 2.4M535.43 430.81l2.4 2.4m0 -2.4l-2.4 2.4M537.62 429.20l2.4 2.4m0 -2.4l-2.4 2.4M539.80 427.04l2.4 2.4m0 -2.4l-2.4 2.4M541.98 422.74l2.4 2.4m0 -2.4l-2.4 2.4" stroke="#8a4a8c" stroke-width="1.35" fill="none"/>
<polyline points="309.60,437.39 311.78,447.61 313.97,443.85 316.15,446.54 318.33,448.15 320.52,461.06 322.70,448.69 324.88,458.37 327.06,456.22 329.25,453.53 331.43,461.06 333.61,447.61 335.80,457.83 337.98,461.06 340.16,454.61 342.35,458.91 344.53,450.30 346.71,460.52 348.89,450.84 351.08,458.91 353.26,458.91 355.44,450.30 357.63,459.99 359.81,458.91 361.99,450.84 364.18,456.76 366.36,450.30 368.54,452.99 370.72,448.69 372.91,452.45 375.09,458.91 377.27,460.52 379.46,448.69 381.64,453.53 383.82,456.22 386.00,451.92 388.19,452.45 390.37,453.53 392.55,454.61 394.74,455.68 396.92,454.61 399.10,446.54 401.29,458.91 403.47,450.84 405.65,444.38 407.84,454.07 410.02,458.91 412.20,456.22 414.38,448.15 416.57,458.37 418.75,448.15 420.93,446.00 423.12,456.22 425.30,452.45 427.48,450.84 429.67,452.45 431.85,444.38 434.03,454.07 436.21,448.69 438.40,450.30 440.58,449.76 442.76,455.68 444.95,455.68 447.13,456.22 449.31,457.83 451.50,456.76 453.68,458.91 455.86,454.61 458.04,457.83 460.23,454.07 462.41,457.83 464.59,456.76 466.78,459.45 468.96,461.06 471.14,458.37 473.33,458.37 475.51,459.45 477.69,458.37 479.87,457.83 482.06,459.45 484.24,461.06 486.42,456.76 488.61,458.37 490.79,456.76 492.97,459.45 495.15,457.83 497.34,459.45 499.52,461.06 501.70,458.37 503.89,451.92 506.07,454.61 508.25,454.61 510.44,449.23 512.62,444.92 514.80,442.77 516.99,442.77 519.17,442.23 521.35,446.54 523.53,446.54 525.72,441.16 527.90,442.77 530.08,443.85 532.27,442.23 534.45,448.69 536.63,445.46 538.82,443.85 541.00,442.23 543.18,438.47" fill="none" stroke="#22a7cf" stroke-width="1.15" stroke-linejoin="round"/>
<path d="M308.40 436.19l2.4 2.4m0 -2.4l-2.4 2.4M310.58 446.41l2.4 2.4m0 -2.4l-2.4 2.4M312.77 442.65l2.4 2.4m0 -2.4l-2.4 2.4M314.95 445.34l2.4 2.4m0 -2.4l-2.4 2.4M317.13 446.95l2.4 2.4m0 -2.4l-2.4 2.4M319.32 459.86l2.4 2.4m0 -2.4l-2.4 2.4M321.50 447.49l2.4 2.4m0 -2.4l-2.4 2.4M323.68 457.17l2.4 2.4m0 -2.4l-2.4 2.4M325.86 455.02l2.4 2.4m0 -2.4l-2.4 2.4M328.05 452.33l2.4 2.4m0 -2.4l-2.4 2.4M330.23 459.86l2.4 2.4m0 -2.4l-2.4 2.4M332.41 446.41l2.4 2.4m0 -2.4l-2.4 2.4M334.60 456.63l2.4 2.4m0 -2.4l-2.4 2.4M336.78 459.86l2.4 2.4m0 -2.4l-2.4 2.4M338.96 453.41l2.4 2.4m0 -2.4l-2.4 2.4M341.15 457.71l2.4 2.4m0 -2.4l-2.4 2.4M343.33 449.10l2.4 2.4m0 -2.4l-2.4 2.4M345.51 459.32l2.4 2.4m0 -2.4l-2.4 2.4M347.69 449.64l2.4 2.4m0 -2.4l-2.4 2.4M349.88 457.71l2.4 2.4m0 -2.4l-2.4 2.4M352.06 457.71l2.4 2.4m0 -2.4l-2.4 2.4M354.24 449.10l2.4 2.4m0 -2.4l-2.4 2.4M356.43 458.79l2.4 2.4m0 -2.4l-2.4 2.4M358.61 457.71l2.4 2.4m0 -2.4l-2.4 2.4M360.79 449.64l2.4 2.4m0 -2.4l-2.4 2.4M362.98 455.56l2.4 2.4m0 -2.4l-2.4 2.4M365.16 449.10l2.4 2.4m0 -2.4l-2.4 2.4M367.34 451.79l2.4 2.4m0 -2.4l-2.4 2.4M369.52 447.49l2.4 2.4m0 -2.4l-2.4 2.4M371.71 451.25l2.4 2.4m0 -2.4l-2.4 2.4M373.89 457.71l2.4 2.4m0 -2.4l-2.4 2.4M376.07 459.32l2.4 2.4m0 -2.4l-2.4 2.4M378.26 447.49l2.4 2.4m0 -2.4l-2.4 2.4M380.44 452.33l2.4 2.4m0 -2.4l-2.4 2.4M382.62 455.02l2.4 2.4m0 -2.4l-2.4 2.4M384.81 450.72l2.4 2.4m0 -2.4l-2.4 2.4M386.99 451.25l2.4 2.4m0 -2.4l-2.4 2.4M389.17 452.33l2.4 2.4m0 -2.4l-2.4 2.4M391.35 453.41l2.4 2.4m0 -2.4l-2.4 2.4M393.54 454.48l2.4 2.4m0 -2.4l-2.4 2.4M395.72 453.41l2.4 2.4m0 -2.4l-2.4 2.4M397.90 445.34l2.4 2.4m0 -2.4l-2.4 2.4M400.09 457.71l2.4 2.4m0 -2.4l-2.4 2.4M402.27 449.64l2.4 2.4m0 -2.4l-2.4 2.4M404.45 443.18l2.4 2.4m0 -2.4l-2.4 2.4M406.64 452.87l2.4 2.4m0 -2.4l-2.4 2.4M408.82 457.71l2.4 2.4m0 -2.4l-2.4 2.4M411.00 455.02l2.4 2.4m0 -2.4l-2.4 2.4M413.18 446.95l2.4 2.4m0 -2.4l-2.4 2.4M415.37 457.17l2.4 2.4m0 -2.4l-2.4 2.4M417.55 446.95l2.4 2.4m0 -2.4l-2.4 2.4M419.73 444.80l2.4 2.4m0 -2.4l-2.4 2.4M421.92 455.02l2.4 2.4m0 -2.4l-2.4 2.4M424.10 451.25l2.4 2.4m0 -2.4l-2.4 2.4M426.28 449.64l2.4 2.4m0 -2.4l-2.4 2.4M428.47 451.25l2.4 2.4m0 -2.4l-2.4 2.4M430.65 443.18l2.4 2.4m0 -2.4l-2.4 2.4M432.83 452.87l2.4 2.4m0 -2.4l-2.4 2.4M435.01 447.49l2.4 2.4m0 -2.4l-2.4 2.4M437.20 449.10l2.4 2.4m0 -2.4l-2.4 2.4M439.38 448.56l2.4 2.4m0 -2.4l-2.4 2.4M441.56 454.48l2.4 2.4m0 -2.4l-2.4 2.4M443.75 454.48l2.4 2.4m0 -2.4l-2.4 2.4M445.93 455.02l2.4 2.4m0 -2.4l-2.4 2.4M448.11 456.63l2.4 2.4m0 -2.4l-2.4 2.4M450.30 455.56l2.4 2.4m0 -2.4l-2.4 2.4M452.48 457.71l2.4 2.4m0 -2.4l-2.4 2.4M454.66 453.41l2.4 2.4m0 -2.4l-2.4 2.4M456.84 456.63l2.4 2.4m0 -2.4l-2.4 2.4M459.03 452.87l2.4 2.4m0 -2.4l-2.4 2.4M461.21 456.63l2.4 2.4m0 -2.4l-2.4 2.4M463.39 455.56l2.4 2.4m0 -2.4l-2.4 2.4M465.58 458.25l2.4 2.4m0 -2.4l-2.4 2.4M467.76 459.86l2.4 2.4m0 -2.4l-2.4 2.4M469.94 457.17l2.4 2.4m0 -2.4l-2.4 2.4M472.13 457.17l2.4 2.4m0 -2.4l-2.4 2.4M474.31 458.25l2.4 2.4m0 -2.4l-2.4 2.4M476.49 457.17l2.4 2.4m0 -2.4l-2.4 2.4M478.67 456.63l2.4 2.4m0 -2.4l-2.4 2.4M480.86 458.25l2.4 2.4m0 -2.4l-2.4 2.4M483.04 459.86l2.4 2.4m0 -2.4l-2.4 2.4M485.22 455.56l2.4 2.4m0 -2.4l-2.4 2.4M487.41 457.17l2.4 2.4m0 -2.4l-2.4 2.4M489.59 455.56l2.4 2.4m0 -2.4l-2.4 2.4M491.77 458.25l2.4 2.4m0 -2.4l-2.4 2.4M493.95 456.63l2.4 2.4m0 -2.4l-2.4 2.4M496.14 458.25l2.4 2.4m0 -2.4l-2.4 2.4M498.32 459.86l2.4 2.4m0 -2.4l-2.4 2.4M500.50 457.17l2.4 2.4m0 -2.4l-2.4 2.4M502.69 450.72l2.4 2.4m0 -2.4l-2.4 2.4M504.87 453.41l2.4 2.4m0 -2.4l-2.4 2.4M507.05 453.41l2.4 2.4m0 -2.4l-2.4 2.4M509.24 448.03l2.4 2.4m0 -2.4l-2.4 2.4M511.42 443.72l2.4 2.4m0 -2.4l-2.4 2.4M513.60 441.57l2.4 2.4m0 -2.4l-2.4 2.4M515.78 441.57l2.4 2.4m0 -2.4l-2.4 2.4M517.97 441.03l2.4 2.4m0 -2.4l-2.4 2.4M520.15 445.34l2.4 2.4m0 -2.4l-2.4 2.4M522.33 445.34l2.4 2.4m0 -2.4l-2.4 2.4M524.52 439.96l2.4 2.4m0 -2.4l-2.4 2.4M526.70 441.57l2.4 2.4m0 -2.4l-2.4 2.4M528.88 442.65l2.4 2.4m0 -2.4l-2.4 2.4M531.07 441.03l2.4 2.4m0 -2.4l-2.4 2.4M533.25 447.49l2.4 2.4m0 -2.4l-2.4 2.4M535.43 444.26l2.4 2.4m0 -2.4l-2.4 2.4M537.62 442.65l2.4 2.4m0 -2.4l-2.4 2.4M539.80 441.03l2.4 2.4m0 -2.4l-2.4 2.4M541.98 437.27l2.4 2.4m0 -2.4l-2.4 2.4" stroke="#22a7cf" stroke-width="1.35" fill="none"/>
<text x="306.50" y="464.50" text-anchor="end">0</text>
<text x="306.50" y="442.98" text-anchor="end">0.002</text>
<text x="306.50" y="421.46" text-anchor="end">0.004</text>
<text x="306.50" y="399.94" text-anchor="end">0.006</text>
<text x="306.50" y="378.42" text-anchor="end">0.008</text>
<text x="306.50" y="356.90" text-anchor="end">0.01</text>
<text x="306.50" y="335.38" text-anchor="end">0.012</text>
<text x="306.50" y="313.86" text-anchor="end">0.014</text>
<text x="306.50" y="292.34" text-anchor="end">0.016</text>
<text x="327.26" y="482.00" text-anchor="middle">1920</text>
<text x="370.92" y="482.00" text-anchor="middle">1940</text>
<text x="414.58" y="482.00" text-anchor="middle">1960</text>
<text x="458.24" y="482.00" text-anchor="middle">1980</text>
<text x="501.90" y="482.00" text-anchor="middle">2000</text>
<text x="426.30" y="268.70" text-anchor="middle" textLength="118.2" lengthAdjust="spacingAndGlyphs">Switzerland - MAPE for age 80</text>
<rect x="173.4" y="501.6" width="253.2" height="14.2" rx="1.3" fill="#fff" stroke="#858585" stroke-width="1"/>
<path d="M176.1 508.85H190.9" stroke="#f4726a" stroke-width="1.15"/><path d="M182.30 507.65l2.4 2.4m0 -2.4l-2.4 2.4" stroke="#f4726a" stroke-width="1.35" fill="none"/><text x="193.6" y="511.6" textLength="63.9" lengthAdjust="spacingAndGlyphs">Permanent-Jump</text>
<path d="M260.2 508.85H274.9" stroke="#8a4a8c" stroke-width="1.15"/><path d="M266.35 507.65l2.4 2.4m0 -2.4l-2.4 2.4" stroke="#8a4a8c" stroke-width="1.35" fill="none"/><text x="277.3" y="511.6" textLength="62.0" lengthAdjust="spacingAndGlyphs">Transitory-Jump</text>
<path d="M341.6 508.85H356.0" stroke="#22a7cf" stroke-width="1.15"/><path d="M347.60 507.65l2.4 2.4m0 -2.4l-2.4 2.4" stroke="#22a7cf" stroke-width="1.35" fill="none"/><text x="358.9" y="511.6" textLength="63.7" lengthAdjust="spacingAndGlyphs">Renewal-Process</text>
</svg>
</body></html>
